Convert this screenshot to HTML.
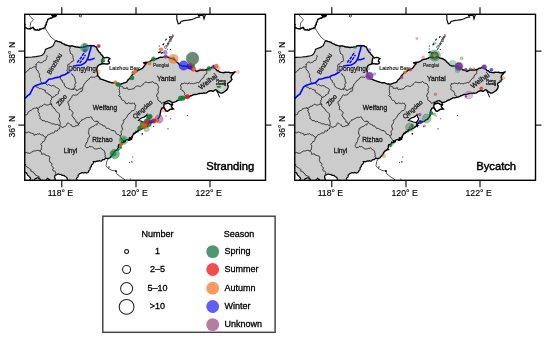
<!DOCTYPE html>
<html><head><meta charset="utf-8"><title>Stranding and bycatch map</title>
<style>
html,body{margin:0;padding:0;background:#fff;}
body{width:550px;height:337px;overflow:hidden;}
svg{display:block;font-family:"Liberation Sans",Arial,sans-serif;}
text{stroke:#000;stroke-width:0.3px;}
text.lb{stroke:#222;stroke-width:0.32px;}
text.sm{stroke:#333;stroke-width:0.2px;}
</style></head>
<body>
<svg width="550" height="337" viewBox="0 0 550 337">
<defs><clipPath id="clip"><rect x="24.75" y="14.3" width="240.75" height="166.0"/></clipPath></defs>
<rect x="0" y="0" width="550" height="337" fill="#fff"/>
<g transform="translate(0,0)">
<g clip-path="url(#clip)">
<polygon points="23.0,57.6 25.8,57.4 32.0,57.0 36.0,56.6 40.6,55.8 42.5,55.0 44.0,53.4 45.0,51.0 45.4,49.4 48.0,48.2 50.7,47.4 53.4,45.4 54.7,42.0 56.0,40.7 57.0,41.1 57.9,41.5 59.0,41.6 60.0,42.0 61.1,42.4 61.9,43.1 62.9,43.7 64.0,44.0 64.6,44.4 65.2,44.8 65.9,45.0 66.6,45.3 67.3,45.4 68.0,45.6 68.7,45.9 69.4,46.0 70.1,45.9 70.8,46.2 71.5,45.9 72.2,45.8 72.8,46.1 73.5,46.1 74.2,46.4 74.8,46.7 75.5,46.8 76.2,47.1 76.9,47.0 77.6,46.9 78.2,47.2 78.9,47.2 79.6,47.5 80.3,47.5 81.4,47.3 82.5,47.4 83.6,47.0 84.7,46.9 85.3,46.8 85.9,46.6 86.4,46.3 86.9,45.9 87.5,45.8 88.1,45.6 88.7,45.7 89.3,45.7 90.4,45.5 91.5,45.8 92.6,45.7 93.7,45.7 94.4,46.1 94.9,46.6 95.7,46.7 96.4,47.0 96.7,47.8 97.1,48.4 97.2,49.3 97.6,50.0 98.3,50.8 98.7,51.8 99.3,52.1 99.7,52.6 100.2,53.0 100.5,53.6 101.2,54.5 102.0,55.3 102.7,56.1 103.2,57.1 103.1,57.7 102.9,58.3 102.5,58.9 102.4,59.5 102.4,60.1 102.2,60.7 102.1,61.4 102.3,62.0 101.9,63.1 101.1,64.0 100.2,64.5 99.3,64.8 98.5,65.2 97.9,66.0 97.3,66.8 97.0,67.8 96.8,68.9 96.8,70.0 97.0,70.7 97.2,71.4 97.3,72.4 97.6,73.4 97.7,74.4 97.4,75.4 98.2,76.1 98.9,76.9 99.7,77.7 100.0,78.7 100.6,79.1 101.3,79.3 102.0,79.4 102.7,79.6 103.4,79.9 104.0,80.2 104.8,80.3 105.4,80.7 106.4,81.0 107.4,81.4 108.4,81.8 109.4,82.0 110.0,82.2 110.7,82.4 111.3,82.7 112.0,82.9 112.7,82.7 113.3,82.7 114.0,82.8 114.7,82.7 115.6,83.3 116.6,83.7 117.6,84.0 118.7,84.0 119.7,84.1 120.8,84.0 121.8,83.8 122.8,83.4 123.8,82.9 124.8,82.7 125.8,82.4 126.8,82.0 127.3,81.0 127.8,80.1 128.7,79.5 129.4,78.7 130.0,78.1 130.5,77.5 130.9,76.7 131.4,76.0 131.9,75.3 132.4,74.7 132.9,74.1 133.4,73.4 134.2,72.9 134.9,72.3 135.8,72.0 136.5,71.4 137.1,71.1 137.5,70.8 138.0,70.3 138.4,70.0 139.6,69.6 140.7,69.2 141.4,68.6 142.4,68.4 142.9,67.7 143.5,67.0 144.1,66.2 144.5,65.2 145.4,64.7 146.0,63.8 145.1,63.3 144.2,62.9 145.1,62.5 146.0,62.5 146.7,62.4 147.4,62.3 148.0,62.2 148.7,62.0 149.6,61.6 150.4,61.0 151.3,60.6 152.0,60.0 152.6,59.9 153.2,59.6 153.7,59.4 154.4,59.4 155.0,59.2 155.6,59.1 156.2,59.0 156.7,58.7 157.4,58.5 158.1,58.4 158.6,57.9 159.2,57.6 159.9,57.4 160.6,57.3 161.3,57.2 162.0,57.4 163.0,57.1 164.0,57.0 165.0,56.9 166.0,56.7 166.7,56.7 167.4,57.0 168.1,57.1 168.8,57.4 169.7,58.0 170.7,58.3 171.8,58.5 172.8,58.7 173.3,59.1 173.8,59.6 174.5,59.7 175.0,60.1 175.5,60.6 176.1,60.9 176.4,61.5 176.8,62.0 177.3,62.5 177.8,62.9 178.3,63.3 178.7,63.8 179.2,64.3 179.6,64.8 180.2,65.2 180.8,65.4 181.8,65.9 182.9,66.0 183.9,66.0 185.0,66.0 186.0,66.3 187.1,66.5 188.1,66.8 189.0,67.4 189.4,67.9 190.0,68.1 190.4,68.5 190.8,69.0 191.4,69.2 191.9,69.4 192.5,69.7 193.0,70.0 194.1,69.9 195.1,70.4 196.0,71.0 197.0,71.4 197.9,70.8 198.9,70.5 199.9,70.1 201.0,70.0 202.0,70.0 203.0,70.0 204.0,70.1 205.0,70.0 205.9,69.7 206.7,69.5 207.7,69.3 208.4,68.7 209.2,68.3 210.2,68.3 211.0,68.0 211.7,67.4 212.8,67.2 213.7,66.7 214.3,67.3 214.7,68.1 215.3,68.8 216.0,69.2 216.6,70.0 217.3,70.8 218.2,70.8 218.9,71.2 219.4,71.9 220.2,72.3 221.2,72.4 222.1,72.6 223.0,72.5 224.0,72.7 224.9,72.3 225.9,72.2 226.8,72.4 227.8,72.3 228.5,72.2 229.2,72.4 229.9,72.7 230.6,72.7 231.3,72.6 232.1,72.7 232.8,72.6 233.5,72.3 234.6,72.0 235.6,71.6 235.0,72.0 234.4,72.5 233.8,73.0 233.5,73.7 232.9,74.0 232.4,74.5 232.1,75.1 231.6,75.6 231.3,76.5 231.1,77.5 231.5,78.5 232.0,79.4 231.2,80.3 230.6,81.3 229.7,82.0 228.7,82.7 227.9,83.3 227.3,84.1 227.7,85.1 228.2,86.0 228.1,87.0 227.8,87.9 227.4,88.9 226.8,89.8 226.0,90.7 224.9,91.2 224.5,91.7 224.0,92.0 223.5,92.3 223.0,92.7 221.9,93.1 220.7,93.1 219.7,92.7 218.8,92.2 218.0,91.5 217.3,90.8 216.6,90.3 215.9,89.8 215.2,89.9 214.5,90.3 213.7,91.0 212.6,91.2 211.7,90.8 210.7,90.8 209.8,91.0 208.8,91.2 208.3,91.5 207.8,91.9 207.3,92.2 206.9,92.7 206.0,93.0 205.0,93.1 204.4,93.2 203.8,93.0 203.2,93.1 202.6,93.4 202.0,93.5 201.4,93.4 200.8,93.4 200.2,93.5 199.1,93.5 198.2,93.8 197.2,94.2 196.2,94.5 195.1,94.5 194.0,94.5 193.1,94.9 192.1,95.4 191.4,95.8 190.6,95.8 190.0,96.2 189.4,96.7 188.8,96.9 188.1,97.0 187.4,97.1 186.8,97.4 185.8,97.6 184.8,97.8 183.8,97.9 182.8,98.0 182.1,98.4 181.4,98.6 180.8,99.1 180.2,99.5 179.6,99.8 178.9,100.0 178.2,100.2 177.6,100.5 176.9,100.8 176.4,101.3 175.7,101.6 175.0,101.8 174.4,102.1 173.6,102.3 173.0,102.5 172.3,102.8 171.8,102.2 171.0,101.8 170.1,101.2 169.1,100.8 168.1,100.9 167.1,101.2 166.2,101.7 165.2,102.1 164.7,102.6 164.2,103.1 164.2,104.1 164.0,105.0 163.9,105.6 163.8,106.2 163.7,106.9 163.8,107.5 163.1,107.9 162.2,108.0 161.6,108.7 161.2,109.6 160.7,110.5 160.6,111.6 160.6,112.2 160.3,112.8 160.2,113.4 160.0,114.0 160.1,114.8 160.1,115.6 159.6,116.2 159.4,117.0 158.9,117.5 158.5,118.1 158.0,118.6 157.7,119.3 156.8,119.6 156.0,119.9 155.3,120.5 154.7,121.1 153.9,121.3 153.2,121.6 152.4,121.9 151.7,122.3 151.0,122.5 150.2,122.5 149.5,122.6 148.8,122.9 148.3,123.3 147.9,123.8 147.5,124.3 147.0,124.7 147.1,125.1 147.5,125.4 147.0,125.4 146.9,125.9 146.3,126.1 145.8,126.5 145.2,126.7 145.0,127.3 144.4,127.2 144.0,127.7 143.5,128.2 142.7,128.1 142.3,128.7 141.6,128.8 141.2,129.4 140.5,129.6 139.9,129.9 139.3,130.0 138.7,130.2 138.4,129.7 138.1,130.1 137.9,130.6 138.2,131.1 137.9,131.6 137.3,131.4 136.9,131.8 136.4,131.8 136.0,131.7 136.1,132.3 135.6,132.5 135.1,133.2 134.5,133.6 134.1,133.2 133.6,133.5 133.5,134.0 133.3,134.4 133.0,135.0 132.5,135.5 132.5,136.2 131.9,136.6 132.3,137.2 131.8,137.9 131.6,138.4 131.8,138.9 131.2,139.3 130.7,139.0 130.2,138.6 130.5,138.0 129.9,137.6 129.4,138.0 129.5,138.4 129.3,138.8 129.4,139.3 129.8,139.5 129.8,140.1 129.3,140.2 128.8,140.0 128.4,140.1 128.0,139.5 127.2,139.6 126.5,139.6 126.0,140.0 125.6,140.3 125.4,140.8 125.4,141.3 125.3,141.7 124.7,141.5 124.4,140.9 123.7,140.8 123.4,141.5 123.4,141.9 123.6,142.3 123.2,142.2 122.9,142.6 122.2,142.9 121.7,142.3 121.5,142.8 121.6,143.3 121.5,143.8 121.0,144.0 120.6,144.6 119.9,144.4 119.4,144.7 118.8,144.7 118.7,145.3 118.5,145.8 118.3,146.4 118.5,147.0 118.3,147.7 117.8,148.2 117.9,149.0 118.4,149.5 117.7,149.7 117.1,149.7 116.6,150.2 116.0,150.5 115.2,150.9 114.6,151.4 114.1,152.1 113.6,152.8 113.5,153.7 113.0,154.3 112.3,154.9 112.0,155.7 111.2,156.2 110.6,156.9 110.0,157.7 109.4,158.4 108.9,158.4 108.4,158.4 107.8,158.3 107.4,158.7 106.9,158.6 106.4,158.3 105.9,158.2 105.4,158.4 104.8,159.0 104.3,159.6 103.5,159.7 102.7,159.7 102.1,160.1 101.7,160.8 101.0,161.2 100.2,161.0 99.5,160.7 98.8,160.9 98.1,161.2 97.4,161.0 96.9,161.2 96.4,161.3 95.9,161.6 95.5,161.9 94.9,161.8 94.5,161.5 94.0,161.7 93.4,161.7 93.6,162.4 93.3,163.1 92.8,163.7 92.7,164.4 91.9,164.8 91.4,165.5 91.4,166.4 90.7,167.0 90.2,167.5 90.0,168.2 90.1,168.8 90.1,169.5 89.5,170.1 88.9,170.6 88.7,171.4 88.2,172.1 87.9,172.6 87.4,172.8 86.9,173.0 86.4,173.1 86.0,172.8 85.4,172.7 84.9,172.5 84.4,172.7 83.9,172.8 83.4,172.9 82.9,172.8 82.4,172.7 81.9,172.7 81.4,172.8 81.0,173.2 80.5,173.4 79.7,173.5 79.1,174.2 78.7,174.9 78.0,175.3 78.2,176.1 78.0,176.9 77.5,177.6 76.7,178.0 76.4,178.8 76.8,179.6 76.9,180.4 77.4,181.0 76.7,181.1 76.1,181.0 75.6,180.5 74.9,180.6 74.2,180.7 73.7,181.0 73.1,181.3 72.6,181.7 72.1,181.2 71.5,181.1 71.0,180.6 70.4,180.4 69.7,180.4 69.0,180.3 68.3,180.5 67.8,181.0 67.6,180.4 67.6,179.7 67.2,179.2 67.2,178.5 66.8,177.7 66.2,177.0 65.5,176.8 65.0,176.2 64.5,176.0 64.2,175.5 63.7,175.7 63.2,175.4 62.6,175.1 61.9,175.3 61.4,174.9 61.0,174.4 60.5,174.7 59.9,174.5 59.4,174.4 59.0,174.0 58.5,174.0 57.9,174.1 57.4,174.3 57.0,174.6 56.5,174.9 55.9,174.8 55.4,175.1 55.0,175.5 54.6,176.2 54.7,176.9 54.6,177.7 55.1,178.3 55.0,179.1 55.3,179.8 54.7,180.2 54.5,181.0 54.2,181.5 53.6,181.5 53.1,181.3 52.5,181.4 52.1,181.1 51.7,180.9 51.1,180.7 50.6,180.8 49.8,180.3 49.3,179.4 48.7,179.5 48.3,179.2 48.1,178.7 47.6,178.3 47.0,179.0 46.3,179.7 46.0,180.2 45.6,180.5 45.1,180.6 44.6,180.5 43.6,180.6 42.6,180.4 41.8,180.9 40.8,181.0 40.7,180.4 40.7,179.8 40.4,179.3 39.8,179.1 39.2,178.9 38.9,178.4 38.4,178.1 37.9,177.8 37.2,177.9 36.7,178.2 36.1,178.4 35.4,178.5 34.9,179.1 34.5,179.6 34.5,180.4 34.1,181.0 33.6,180.9 33.0,181.0 32.5,180.8 32.2,180.4 31.9,180.9 31.4,181.1 30.9,180.9 30.3,181.0 30.1,180.3 29.9,179.7 30.2,179.1 30.6,178.5 30.2,178.0 30.1,177.3 29.5,176.9 29.0,176.5 28.6,175.8 27.9,175.4 27.3,174.8 27.1,174.0 26.7,173.4 26.5,172.7 25.8,172.6 25.2,172.1 23.0,171.5" fill="#cccccc" stroke="none"/>
<polygon points="138.5,120.4 140.2,118.8 142.1,117.8 144.1,117.1 146.0,115.8 147.0,114.5 147.7,117.1 148.7,118.4 148.0,120.1 147.0,121.7 146.0,122.4 143.4,122.0 140.8,121.0" fill="#ffffff" stroke="#000" stroke-width="1.2"/>
<polyline points="46.6,55.0 46.8,55.6 47.2,56.2 47.3,56.9 46.8,57.4 46.6,58.0 46.3,58.5 46.5,59.2 46.0,59.7 45.5,60.5 44.5,60.6 43.8,61.1 43.0,61.5 42.8,62.0 42.4,62.5 41.9,62.4 41.3,62.7 40.8,62.9 40.3,62.8 39.9,62.4 39.4,62.1 38.7,62.0 37.9,62.1 37.6,62.8 37.1,63.3 36.7,63.7 36.7,64.2 36.2,64.5 35.7,64.5 36.2,65.4 35.9,66.3 35.5,66.8 34.8,67.1 34.2,66.8 33.5,66.9 33.0,67.1 32.7,67.4 32.3,67.8 31.9,68.1 31.4,68.4 30.9,68.1 30.4,68.3 29.9,68.1 29.4,68.8 29.1,69.6 28.4,70.1 27.6,70.4 27.2,70.9 26.9,71.5 26.4,71.9 25.8,72.2 25.0,72.4 24.5,73.0 23.7,72.9 23.0,73.2" fill="none" stroke="#1e1e1e" stroke-width="0.9"/>
<polyline points="35.9,66.3 36.2,67.2 35.9,68.1 35.9,68.7 36.4,69.0 36.5,69.6 36.9,69.9 37.1,70.5 37.7,70.6 38.2,71.0 38.2,71.6 38.3,72.6 39.0,73.3 39.3,73.8 39.5,74.2 39.7,74.7 39.4,75.2 39.3,76.2 39.7,77.1 40.1,77.9 40.6,78.7 40.5,79.3 40.7,79.9 40.4,80.5 40.3,81.1 40.7,81.5 41.0,82.0 41.2,82.6 41.8,82.9 41.8,83.6 42.4,84.1" fill="none" stroke="#1e1e1e" stroke-width="0.9"/>
<polyline points="70.0,46.5 70.2,47.2 69.8,47.7 69.8,48.4 70.1,49.0 69.6,49.5 69.8,50.2 69.7,50.8 70.0,51.4 70.3,51.9 70.5,52.4 70.3,52.9 70.4,53.5 71.0,53.6 71.4,54.1 72.1,54.2 72.4,54.7 72.6,55.4 73.0,55.9 73.0,56.6 72.5,57.1 73.0,57.6 73.4,58.3 73.1,59.0 73.5,59.7 73.6,60.2 73.7,60.7 73.3,61.1 73.0,61.5 72.4,61.3 71.7,61.5 71.1,61.9 70.9,62.5 70.5,63.1 70.0,63.7 69.3,64.1 68.6,64.3 67.9,64.5 67.6,65.2 67.8,65.8 67.5,66.5 67.9,67.4 67.8,68.3 67.6,69.2 66.9,69.9 67.1,70.6 67.5,71.2 67.9,71.8 68.0,72.5" fill="none" stroke="#1e1e1e" stroke-width="0.9"/>
<polyline points="70.9,73.9 71.5,73.9 72.1,74.0 72.4,74.4 72.6,75.0 72.8,75.7 73.4,75.9 73.8,76.4 74.3,76.7 74.4,77.6 74.8,78.4 74.9,79.3 75.4,80.1 75.1,80.8 75.3,81.5 75.5,82.2 76.2,82.5 75.7,83.0 75.2,83.3 75.1,84.0 74.8,84.6 74.9,85.4 75.2,86.1 75.1,87.0 74.3,87.4 74.3,88.1 73.9,88.7 73.3,89.1 72.6,89.1 71.7,89.5 70.8,89.1 70.4,89.4 69.9,89.3 69.4,89.0 69.2,88.5 68.6,88.4 68.1,88.7 67.8,88.3 67.4,87.9 66.8,87.9 66.4,87.7 66.0,87.3 65.8,86.8 65.2,86.6 64.8,86.1 64.7,85.4 64.1,85.1 64.2,84.5 64.4,83.8 63.9,83.4 63.5,82.9 62.8,82.7 62.4,82.0 62.3,81.3 62.4,80.6 62.0,80.1 61.3,80.0 60.8,79.6 60.7,78.9 60.1,78.1 60.5,77.2" fill="none" stroke="#1e1e1e" stroke-width="0.9"/>
<polyline points="45.4,83.3 46.1,83.6 46.3,84.3 46.8,84.8 47.3,85.3 47.9,84.9 48.6,84.4 49.1,85.1 50.0,85.0 50.7,85.7 51.6,86.0 52.4,85.6 53.4,85.7 54.3,85.7 54.9,86.3 55.4,87.1 56.2,87.4 56.7,87.9 57.3,88.0 58.0,88.1 58.5,88.5 58.8,89.1 59.4,89.5 59.1,90.2 59.6,90.8 58.8,91.2 58.5,92.0 58.2,92.8 58.5,93.6 58.1,93.9 57.5,93.9 57.1,94.3 56.8,94.7 56.1,95.0 55.4,95.0 55.5,95.6 55.0,96.0 54.6,96.3 54.0,96.3 53.5,96.7 53.2,97.3 52.5,97.2 52.0,97.7" fill="none" stroke="#1e1e1e" stroke-width="0.9"/>
<polyline points="35.9,85.9 35.9,86.6 36.5,87.0 37.1,87.5 37.7,87.2 38.3,87.4 38.7,87.9 39.2,88.2 39.4,88.8 39.9,88.6 40.3,88.3 40.8,88.6 41.3,88.5 41.6,88.9 42.0,89.3 42.5,89.4 43.0,89.4 43.7,89.5 44.1,90.1 44.8,90.2 45.4,90.0 45.1,90.9 45.3,91.8 45.8,92.6 46.6,93.0 47.1,93.2 47.6,93.1 48.0,93.4 48.3,93.8 48.5,94.4 49.0,94.5 49.5,94.6 50.0,94.7 50.0,95.2 50.2,95.7 50.8,95.7 51.2,96.1 51.9,96.7 52.0,97.7" fill="none" stroke="#1e1e1e" stroke-width="0.9"/>
<polyline points="37.4,107.7 37.3,108.3 37.5,108.9 38.1,109.0 38.5,109.6 37.9,109.9 37.9,110.6 37.8,111.1 38.0,111.7 38.6,112.1 38.6,112.8 39.3,113.2 39.4,113.9 39.1,114.6 39.0,115.3 39.5,115.9 40.0,116.4 39.8,117.0 40.1,117.6 39.8,118.2 40.0,118.9 40.7,118.9 41.3,119.3 41.8,119.8 42.0,120.4 42.9,120.6 43.9,120.6 44.8,120.9 45.4,121.7 46.2,121.9 46.8,121.3 47.5,121.6 48.1,122.1 48.7,122.4 49.4,122.5 49.9,123.0 50.7,123.0 51.3,123.5 51.9,124.0 52.7,123.9 53.4,123.8 54.2,123.7 54.7,124.4 55.4,124.7 56.0,125.0 56.5,124.8 56.8,124.4 57.4,124.4 57.8,124.7 58.6,125.2 59.4,125.7 59.5,125.2 59.9,124.8 60.0,124.3 60.2,123.8 60.4,123.2 60.2,122.7 59.9,122.3 60.0,121.7 59.5,120.9 59.5,120.0 58.9,119.3 58.7,118.4 59.1,117.6 59.6,116.8 59.5,115.9 59.4,115.0 59.4,114.4 59.4,113.8 59.0,113.3 58.5,113.0 58.1,112.6 57.6,112.3 57.2,111.9 56.7,111.7 56.3,111.3 56.0,110.9 55.8,110.3 55.3,110.1 55.3,109.5 54.8,109.1 54.6,108.6 54.0,108.4 53.9,107.8 53.3,107.5 53.0,106.9 52.5,106.7 51.9,106.3 51.8,105.6 51.8,105.0 52.0,104.4 51.3,104.3 50.9,103.8 50.8,103.2 50.4,102.7 50.9,102.2 50.9,101.5 50.6,101.0 50.7,100.3 51.3,99.8 51.7,99.2 51.5,98.4 52.0,97.7" fill="none" stroke="#1e1e1e" stroke-width="0.9"/>
<polyline points="23.0,115.8 23.6,116.2 24.3,115.9 24.7,115.3 25.3,115.0 25.8,114.8 26.3,114.6 26.8,114.8 27.3,114.4 27.5,113.8 28.0,113.5 28.0,113.0 28.0,112.4 28.3,111.8 28.9,111.6 29.4,111.2 30.0,111.1 30.5,110.5 31.2,110.6 31.6,110.2 32.0,109.7 32.2,109.1 32.7,108.6 33.3,108.7 33.9,108.6 34.4,108.1 35.0,108.1 35.6,108.2 36.0,107.7 36.9,107.8 37.4,108.6 38.1,108.1 38.9,107.9 39.6,107.4 39.8,106.5 40.6,106.2 41.4,106.4 42.2,106.2 42.5,105.4 43.3,105.2 43.8,104.6 44.5,104.2 45.3,104.4 45.9,105.0 46.7,105.0 47.6,105.1 48.4,104.8 49.1,104.2 50.0,104.4 50.6,104.3 51.0,103.9 51.5,104.1 52.0,104.4" fill="none" stroke="#1e1e1e" stroke-width="0.9"/>
<polyline points="72.6,89.1 73.1,89.4 73.6,89.4 74.2,89.3 74.6,88.8 75.0,89.2 75.6,89.2 76.0,89.6 76.0,90.2 76.9,90.2 77.9,90.3 78.5,89.6 79.3,89.1 79.8,89.0 80.4,89.1 80.5,88.6 81.1,88.4 81.9,87.9 82.7,87.4 82.7,86.8 83.1,86.4 83.3,85.9 83.9,85.7 83.6,85.0 83.9,84.3 84.3,83.7 85.0,83.4 85.5,82.8 85.6,82.1 86.0,81.5 86.7,81.2 87.2,80.4 88.1,80.1 88.7,79.4 89.5,78.9 89.4,78.3 89.9,77.8 90.4,77.6 90.7,77.1 91.3,77.0 91.8,77.2 92.4,77.2 92.9,77.2 93.5,77.2 93.9,76.9 94.4,77.2 94.9,77.5 95.6,76.8 96.3,76.1 97.0,76.3 97.6,76.0" fill="none" stroke="#1e1e1e" stroke-width="0.9"/>
<polyline points="82.7,87.4 82.7,88.4 82.7,89.4 82.2,89.7 82.2,90.3 82.3,90.8 82.2,91.3 81.3,91.3 80.4,91.6 79.8,92.2 79.3,93.0 78.6,93.6 77.7,94.0 77.5,94.6 77.0,94.8 76.5,95.0 76.0,94.7 75.5,95.1 74.9,95.1 74.3,95.3 73.8,95.0 73.1,94.9 72.6,95.3 72.2,95.7 72.0,96.3 71.9,97.2 71.3,97.9 70.8,98.6 70.0,99.0 70.0,99.6 69.9,100.2 69.6,100.7 69.1,101.0 68.4,101.1 68.0,101.7 68.0,102.4 68.0,103.0 68.1,103.8 68.8,104.2 68.9,105.0 68.8,105.7 69.3,106.0 69.7,106.5 69.6,107.1 69.4,107.7 69.6,108.2 69.4,108.7 69.4,109.2 69.4,109.7 70.4,109.6 71.0,110.3 71.7,110.9 72.2,111.6 72.7,111.9 73.0,112.3 73.1,112.8 72.9,113.4 72.4,114.1 72.0,115.0 72.1,115.8 72.5,116.4 72.9,117.1 73.6,117.4 73.9,118.1 74.0,118.9 74.8,119.2 75.4,119.7 75.6,120.3 76.1,120.8 75.9,121.4 75.9,122.1 76.6,122.3 77.2,122.0 77.4,122.7 78.1,123.0 78.1,123.7 78.4,124.3 78.5,125.0 79.0,125.5" fill="none" stroke="#1e1e1e" stroke-width="0.9"/>
<polyline points="59.4,125.7 60.0,125.8 60.7,125.9 61.0,126.5 61.4,127.0 62.2,127.4 63.2,127.2 64.0,126.9 64.7,126.4 65.6,126.1 66.3,125.5 66.8,124.6 66.8,123.7 67.5,123.1 68.5,123.2 69.2,123.6 69.8,124.3 70.5,124.9 71.4,124.8 71.6,125.6 72.0,126.4 72.7,126.6 73.4,126.6 74.1,126.5 74.8,126.4 75.5,126.1 75.9,125.3 76.6,125.7 77.4,125.7 77.8,125.3 78.1,124.8 78.2,124.2 78.7,123.9 79.0,123.4 79.6,123.1 79.5,122.5 80.0,122.0 80.4,121.4 81.1,121.1 81.5,120.5 81.6,119.8 82.3,119.9 83.1,119.9 83.5,119.2 84.0,118.7 84.6,118.8 85.1,118.6 85.6,118.3 86.0,118.0 86.5,117.7 87.0,117.9 87.4,117.4 88.0,117.4 88.6,117.4 89.1,117.6 89.6,117.4 90.1,117.1 90.7,116.8 91.3,117.1 91.8,117.4 92.0,118.0 92.0,118.6 92.3,119.1 92.8,119.4 93.0,120.0 93.4,120.3 93.8,120.7 94.3,121.0 94.7,121.4 95.3,121.3 95.9,121.6 96.6,121.5 96.8,120.8 97.4,121.2 97.5,121.9 98.1,121.9 98.7,122.0 98.7,122.6 98.7,123.1 99.2,123.4 99.6,123.8 100.1,124.2 100.6,124.0 101.1,124.2 101.4,124.7 102.0,124.8 102.6,124.9 102.7,125.6 103.3,125.9 103.9,126.1 104.5,125.9 105.0,126.3 105.4,126.7 105.8,127.1 105.8,127.7 106.1,128.2 106.6,128.4 107.2,128.2 107.7,128.5 108.2,128.3 108.7,128.7 109.6,129.1 110.4,129.7 111.3,130.0 112.0,130.7 113.0,130.5 114.0,130.7 114.3,131.1 114.8,131.2 115.3,131.4 115.4,132.0 115.8,132.5 115.7,133.2 116.1,133.7 116.7,133.8 117.0,134.4 117.7,134.5 118.3,134.5 118.8,134.7 119.5,135.3 120.0,136.0 120.0,136.6 120.6,136.9 120.8,137.5 121.0,138.0 121.5,138.5 121.9,139.1 122.4,139.7 122.5,140.5" fill="none" stroke="#1e1e1e" stroke-width="0.9"/>
<polyline points="97.4,123.0 97.2,123.6 97.4,124.1 97.1,124.6 96.7,124.9 96.1,124.9 95.6,124.7 95.2,125.1 94.7,125.4 94.4,125.9 93.9,126.4 93.2,126.2 92.7,126.7 92.0,126.6 91.4,126.9 91.0,127.4 90.7,128.0 90.2,128.0 89.7,128.0 89.3,128.4 89.1,128.9 89.1,129.4 89.3,129.9 89.0,130.3 88.7,130.7 88.7,131.2 88.4,131.7 88.7,132.2 88.5,132.8 88.7,133.4 88.5,134.0 89.0,134.3 89.4,134.7 89.7,135.2 89.7,135.8 89.4,136.4 89.5,137.0 88.9,137.6 88.1,137.8 87.9,138.7 88.0,139.5 87.9,140.0 87.6,140.5 87.7,141.0 87.4,141.5 87.4,142.1 87.0,142.5 86.4,142.5 86.0,143.0 86.1,143.9 85.7,144.7 85.1,145.5 85.3,146.4 85.8,147.1 86.3,147.8 87.1,147.4 88.0,147.7 88.5,147.1 89.1,146.6 90.0,146.3 90.7,146.8 91.5,146.6 92.2,146.8 92.8,147.3 93.4,147.7 94.0,148.2 94.4,148.8 95.2,148.9 95.9,149.2 96.6,148.9 97.3,148.8 98.0,148.5 98.7,148.4 99.4,148.5 99.8,147.9 100.4,147.8 101.0,148.1 101.4,148.5 101.9,148.9 102.1,149.5 102.7,149.7 103.5,150.0 104.1,150.7 104.6,151.5 104.7,152.4 105.0,153.2 105.2,154.0 104.9,154.9 105.4,155.7 105.0,156.4 105.2,157.2 105.9,157.6 106.0,158.4" fill="none" stroke="#1e1e1e" stroke-width="0.9"/>
<polyline points="60.0,127.0 59.6,127.9 59.7,128.9 59.2,128.9 58.7,128.9 58.3,129.3 58.0,129.7 57.5,130.0 57.5,130.6 57.0,130.8 56.7,131.3 56.4,130.8 55.8,130.7 55.3,131.0 54.7,131.0 54.6,131.7 54.4,132.4 53.8,132.7 53.3,133.3 52.6,132.9 51.9,132.9 51.2,133.2 50.7,133.8 50.2,133.9 49.7,134.1 49.3,134.5 48.8,134.3 48.4,134.7 47.8,134.8 47.4,135.2 47.4,135.8 47.0,136.3 46.3,136.7 46.2,137.4 45.6,137.8 45.2,138.3 45.0,138.9 45.1,139.6 44.7,140.2 44.4,140.8 44.1,141.4 43.4,141.5 42.7,141.7 42.5,142.6 41.9,143.2 41.2,143.7 40.7,144.4 41.2,144.8 41.6,145.1 41.6,145.8 42.1,146.2 41.6,146.6 41.6,147.2 41.5,147.8 41.4,148.4 41.5,149.2 41.1,149.9 40.3,150.2 40.0,151.0 39.3,150.8 38.8,150.4 38.1,150.8 37.4,150.4 36.7,150.5 36.0,150.5 35.4,150.9 34.7,151.1 34.0,150.8 33.3,151.1 32.7,151.6 32.0,151.7 31.5,152.3 30.9,152.8 30.2,153.0 29.5,153.4 28.7,153.1 27.9,153.4 27.5,152.7 26.7,152.4 25.8,152.9 24.8,152.7 24.3,152.6 23.8,152.4 23.3,152.5 23.0,153.0" fill="none" stroke="#1e1e1e" stroke-width="0.9"/>
<polyline points="23.0,132.3 23.5,132.0 24.2,132.0 24.7,132.4 25.3,132.4 26.0,132.7 26.8,132.9 27.3,132.3 28.1,132.1 28.8,132.0 29.5,132.1 30.0,132.7 30.7,133.0 31.2,132.9 31.7,133.1 32.1,133.5 32.7,133.4 33.3,133.5 33.6,134.0 34.0,134.5 33.8,135.1 34.4,135.3 34.9,135.0 35.3,134.7 35.5,134.2 36.0,134.6 36.6,134.5 36.9,134.1 37.4,133.8 37.9,134.2 38.5,134.3 38.9,133.7 39.6,133.7 40.1,134.1 40.4,134.5 40.9,134.7 41.4,135.0 42.1,134.7 42.8,135.1 43.4,135.4 43.8,136.0 44.1,136.6 44.8,136.7 45.4,137.1 45.6,137.8" fill="none" stroke="#1e1e1e" stroke-width="0.9"/>
<polyline points="40.0,151.0 40.3,151.4 40.8,151.6 40.9,152.1 41.4,152.4 41.6,153.4 41.7,154.4 42.1,154.2 42.7,154.1 43.2,154.1 43.7,153.8 44.2,153.8 44.8,154.1 44.9,154.7 45.4,155.0 46.1,155.4 47.0,155.3 47.6,155.9 48.5,155.9 49.0,155.9 49.4,156.3 49.3,156.8 49.7,157.2 49.8,158.2 49.4,159.0 49.4,159.6 49.1,160.2 49.6,160.7 49.8,161.3 49.9,161.9 50.2,162.5 50.9,162.6 51.4,163.0 51.7,163.5 51.7,164.1 51.9,164.6 51.6,165.2 51.5,165.8 51.9,166.2 52.2,166.7 52.7,167.0 53.2,167.5 53.4,168.2 53.1,168.9 52.7,169.5 52.7,170.3 53.3,170.8 54.0,170.8 54.7,171.0 55.2,171.6 55.6,172.4 55.7,173.2 55.7,174.0" fill="none" stroke="#1e1e1e" stroke-width="0.9"/>
<polyline points="23.0,163.3 23.8,163.7 24.1,164.6 25.0,164.8 25.8,164.5 25.6,165.3 26.0,166.1 26.5,166.7 27.1,167.2 27.9,167.4 28.5,167.8 29.1,168.3 29.6,168.9 30.4,169.2 30.9,169.8 30.7,170.6 30.9,171.4 31.7,171.2 32.4,171.7 33.2,171.9 33.5,172.7 33.9,173.3 34.6,173.4 34.7,174.1 35.3,174.4 35.8,175.0 35.9,175.7 36.6,175.5 37.3,175.9 38.2,176.3 39.1,176.6 39.2,177.1 39.2,177.6 39.7,178.0 39.8,178.5" fill="none" stroke="#1e1e1e" stroke-width="0.9"/>
<polyline points="118.7,84.0 119.4,84.6 120.0,85.4 119.6,85.9 119.5,86.5 119.2,87.0 119.4,87.7 119.5,88.3 119.2,88.8 119.1,89.5 119.4,90.0 119.5,90.7 119.4,91.4 119.4,92.1 119.7,92.8 119.9,93.5 119.6,94.3 119.3,95.0 118.7,95.4 119.0,96.0 119.4,96.6 120.2,96.6 120.8,96.9 120.7,97.6 121.3,98.1 121.3,98.8 121.4,99.4 121.8,99.9 122.4,100.3 123.0,100.7 123.7,100.4 124.2,100.8 124.8,101.2 124.7,101.9 125.0,102.5 125.8,102.8 125.9,103.7 126.7,103.5 127.4,103.7 127.8,103.1 128.6,102.8 129.2,103.3 130.0,103.0 130.5,103.3 131.0,103.7 131.6,103.7 132.1,103.3 132.7,103.1 133.2,103.2 133.8,103.4 134.3,103.2 134.7,103.8 134.6,104.4 135.1,104.8 135.7,105.0 135.7,105.9 135.1,106.7 135.2,107.5 135.0,108.4 135.0,109.0 134.8,109.6 134.3,109.9 133.9,110.4 133.3,110.6 132.7,110.5 132.4,111.0 131.7,111.0 131.0,111.6 130.6,112.5 130.0,113.3 129.0,113.5 128.9,114.0 128.5,114.4 128.0,114.6 127.7,115.0 127.7,115.7 127.0,116.2 127.0,116.9 126.5,117.4 126.1,117.7 125.8,118.1 125.6,118.6 125.1,118.9 124.7,119.3 124.5,119.8 123.9,119.9 123.4,120.0 123.3,120.6 123.7,121.0 123.8,121.6 123.6,122.1 123.4,122.6 123.1,123.0 123.0,123.5 122.8,124.0 122.2,124.6 121.5,125.0 121.9,125.8 121.7,126.7 122.0,127.4 121.9,128.2 122.7,128.5 122.8,129.4 122.3,129.7 122.1,130.3 121.7,130.7 121.2,131.1 121.0,131.7 120.8,132.3 121.3,132.7 121.4,133.4 121.4,134.2 121.4,135.1 120.6,135.4 120.0,136.0" fill="none" stroke="#1e1e1e" stroke-width="0.9"/>
<polyline points="120.0,86.0 120.5,86.1 121.0,86.4 121.5,86.4 122.1,86.4 122.6,86.7 122.9,87.1 123.0,87.7 123.1,88.3 123.6,88.1 124.2,88.0 124.6,88.5 125.1,88.7 125.7,88.4 126.3,88.5 126.3,87.8 126.8,87.4 127.4,87.7 127.6,88.4 127.7,89.1 128.3,89.5 128.9,89.6 129.5,89.3 130.2,89.4 130.8,89.4 131.5,89.3 131.9,88.8 132.6,88.8 133.2,89.1 133.7,88.8 133.9,88.2 134.5,88.0 134.8,87.4 135.2,86.9 135.6,86.4 136.3,86.3 136.9,86.1 137.5,85.8 138.1,86.1 138.7,86.1 139.3,86.4 140.0,86.1 140.7,86.5 141.2,86.1 141.7,85.6 142.1,84.9 142.8,84.9 143.3,84.4 143.4,83.7 143.9,83.4 144.4,83.1 144.8,82.7 145.1,82.2 145.7,82.1 146.3,82.1 146.8,82.4 147.4,82.5 148.2,82.6 149.1,82.7 149.9,82.5 150.7,82.3 151.6,82.1 152.5,81.6 153.2,82.2 154.0,82.7 154.4,83.2 154.9,83.3 155.5,83.3 156.0,83.3 156.5,83.6 157.0,83.9 157.4,84.4 157.4,85.0 158.0,85.4 158.1,86.1 158.4,86.6 158.7,87.2 158.8,87.9 158.3,88.5 158.1,89.1 158.0,89.7 157.8,90.3 158.0,90.8 158.2,91.3 158.5,91.8 158.4,92.4 158.3,93.0 157.8,93.4 157.2,93.6 157.0,94.2 157.3,94.8 156.7,95.1 156.6,95.8 156.6,96.4 157.1,96.9 157.7,97.1 158.0,97.6 157.6,98.1 157.8,98.7 157.5,99.3 157.7,99.9 158.2,100.3 158.8,100.3 158.8,101.0 159.4,101.4 160.2,101.5 160.9,101.9 160.9,102.7 161.4,103.4 162.4,103.2 162.9,102.4 163.8,102.3 164.7,102.7" fill="none" stroke="#1e1e1e" stroke-width="0.9"/>
<polyline points="207.8,69.0 207.6,69.5 207.5,70.0 206.9,70.1 206.6,70.5 206.9,71.0 206.9,71.5 206.8,72.0 206.6,72.5 206.8,73.0 206.7,73.6 206.4,74.1 205.8,74.3 205.3,74.4 204.8,74.7 204.4,75.1 204.4,75.7 204.3,76.3 203.8,76.6 203.8,77.1 203.8,77.6 203.4,77.9 202.9,78.0 202.3,78.2 202.1,78.7 201.6,79.3 201.1,80.0 200.4,80.5 200.3,81.4 199.7,81.5 199.2,81.8 199.2,82.4 199.0,82.9 198.5,82.9 198.0,82.6 197.4,82.5 197.0,83.0 196.5,82.9 196.0,83.2 195.5,83.2 195.0,83.1 194.4,83.2 194.1,83.6 193.5,83.8 193.0,83.5 192.4,83.6 191.8,83.4 191.3,83.6 190.8,84.0 190.4,83.5 189.9,83.2 189.4,83.0 189.0,82.6 188.8,83.3 188.1,83.6 187.4,83.8 186.8,83.4 186.1,83.4 185.4,83.3 184.8,82.9 184.1,83.0 183.6,83.6 182.8,83.8 182.1,83.5 181.4,83.4 181.7,84.1 181.2,84.8 180.7,85.2 180.0,85.4 180.5,85.7 180.8,86.2 181.0,86.7 181.3,87.2 181.3,87.8 180.9,88.3 180.8,88.8 180.8,89.4 181.4,90.0 182.2,90.0 182.7,90.6 182.9,91.3 183.7,91.4 184.2,92.0 184.4,92.7 184.8,93.4 184.8,94.0 184.6,94.5 185.0,95.0 185.1,95.6 185.7,95.8 186.3,95.8 186.5,96.4 186.8,97.0" fill="none" stroke="#1e1e1e" stroke-width="0.9"/>
<polyline points="23.0,57.6 25.8,57.4 32.0,57.0 36.0,56.6 40.6,55.8 42.5,55.0 44.0,53.4 45.0,51.0 45.4,49.4 48.0,48.2 50.7,47.4 53.4,45.4 54.7,42.0 56.0,40.7" fill="none" stroke="#000" stroke-width="1.1"/>
<polyline points="109.4,158.4 108.9,158.4 108.4,158.4 107.8,158.3 107.4,158.7 106.9,158.6 106.4,158.3 105.9,158.2 105.4,158.4 104.8,159.0 104.3,159.6 103.5,159.7 102.7,159.7 102.1,160.1 101.7,160.8 101.0,161.2 100.2,161.0 99.5,160.7 98.8,160.9 98.1,161.2 97.4,161.0 96.9,161.2 96.4,161.3 95.9,161.6 95.5,161.9 94.9,161.8 94.5,161.5 94.0,161.7 93.4,161.7 93.6,162.4 93.3,163.1 92.8,163.7 92.7,164.4 91.9,164.8 91.4,165.5 91.4,166.4 90.7,167.0 90.2,167.5 90.0,168.2 90.1,168.8 90.1,169.5 89.5,170.1 88.9,170.6 88.7,171.4 88.2,172.1 87.9,172.6 87.4,172.8 86.9,173.0 86.4,173.1 86.0,172.8 85.4,172.7 84.9,172.5 84.4,172.7 83.9,172.8 83.4,172.9 82.9,172.8 82.4,172.7 81.9,172.7 81.4,172.8 81.0,173.2 80.5,173.4 79.7,173.5 79.1,174.2 78.7,174.9 78.0,175.3 78.2,176.1 78.0,176.9 77.5,177.6 76.7,178.0 76.4,178.8 76.8,179.6 76.9,180.4 77.4,181.0 76.7,181.1 76.1,181.0 75.6,180.5 74.9,180.6 74.2,180.7 73.7,181.0 73.1,181.3 72.6,181.7 72.1,181.2 71.5,181.1 71.0,180.6 70.4,180.4 69.7,180.4 69.0,180.3 68.3,180.5 67.8,181.0 67.6,180.4 67.6,179.7 67.2,179.2 67.2,178.5 66.8,177.7 66.2,177.0 65.5,176.8 65.0,176.2 64.5,176.0 64.2,175.5 63.7,175.7 63.2,175.4 62.6,175.1 61.9,175.3 61.4,174.9 61.0,174.4 60.5,174.7 59.9,174.5 59.4,174.4 59.0,174.0 58.5,174.0 57.9,174.1 57.4,174.3 57.0,174.6 56.5,174.9 55.9,174.8 55.4,175.1 55.0,175.5 54.6,176.2 54.7,176.9 54.6,177.7 55.1,178.3 55.0,179.1 55.3,179.8 54.7,180.2 54.5,181.0 54.2,181.5 53.6,181.5 53.1,181.3 52.5,181.4 52.1,181.1 51.7,180.9 51.1,180.7 50.6,180.8 49.8,180.3 49.3,179.4 48.7,179.5 48.3,179.2 48.1,178.7 47.6,178.3 47.0,179.0 46.3,179.7 46.0,180.2 45.6,180.5 45.1,180.6 44.6,180.5 43.6,180.6 42.6,180.4 41.8,180.9 40.8,181.0 40.7,180.4 40.7,179.8 40.4,179.3 39.8,179.1 39.2,178.9 38.9,178.4 38.4,178.1 37.9,177.8 37.2,177.9 36.7,178.2 36.1,178.4 35.4,178.5 34.9,179.1 34.5,179.6 34.5,180.4 34.1,181.0 33.6,180.9 33.0,181.0 32.5,180.8 32.2,180.4 31.9,180.9 31.4,181.1 30.9,180.9 30.3,181.0 30.1,180.3 29.9,179.7 30.2,179.1 30.6,178.5 30.2,178.0 30.1,177.3 29.5,176.9 29.0,176.5 28.6,175.8 27.9,175.4 27.3,174.8 27.1,174.0 26.7,173.4 26.5,172.7 25.8,172.6 25.2,172.1" fill="none" stroke="#000" stroke-width="1.2"/>
<polyline points="216.6,90.8 218,93.5 219.7,97.4" fill="none" stroke="#000" stroke-width="1"/>
<polyline points="27.5,13.0 28.0,14.0 33.4,19.8 30.7,22.9 30.2,26.5 31.0,28.2" fill="none" stroke="#111" stroke-width="0.7"/>
<polyline points="44.9,27.8 46.5,30.5 48.7,33.8 50.9,37.1 54.2,39.8 56.4,40.9" fill="none" stroke="#111" stroke-width="0.7"/>
<polyline points="176.6,13.0 176.8,16.0 176.8,19.3 178.2,23.8 180.0,23.4 181.0,21.5 184.0,20.6 187.7,20.2 191.4,19.7 194.0,18.8 196.8,17.5 199.5,17.0 198.6,15.6 203.0,15.2 204.0,18.8 205.0,15.6 206.8,13.0" fill="none" stroke="#111" stroke-width="1.2"/>
<polyline points="109.4,158.4 108.0,159.0 106.7,161.7 106.0,165.7 108.0,168.4 112.0,170.4 116.0,171.0 116.7,173.8 120.0,176.4 124.0,179.0 126.0,181.0" fill="none" stroke="#111" stroke-width="0.7"/>
<polyline points="23.0,24.5 23.9,24.7 24.9,24.7 24.6,25.4 24.5,26.1 24.9,26.7 25.1,27.5 25.6,28.0 26.4,28.0 27.1,28.3 27.6,28.7 28.5,28.9 29.3,28.7 30.2,28.9 31.0,28.2 31.9,28.1 32.5,27.4 33.3,27.5 33.6,28.3 34.1,28.9 34.2,29.6 34.8,29.7 35.4,29.7 35.9,30.1 36.5,30.0 37.1,30.0 37.6,29.6 37.9,30.1 38.5,30.3 39.0,30.1 39.6,29.9 39.6,29.3 40.0,28.9 40.6,29.2 41.2,29.1 41.8,28.9 42.2,28.4 43.0,28.4 43.8,28.6 44.1,27.8 44.9,27.5 45.3,27.0 45.3,26.3 45.2,25.7 45.5,25.1 46.3,24.7 46.4,23.9 46.2,23.1 46.5,22.4 47.0,22.0 47.2,21.4 47.4,20.8 47.6,20.2 47.8,19.5 48.4,19.0 49.2,18.9 49.8,18.5 50.2,18.1 50.8,18.2 51.3,18.3 51.8,18.0 52.1,17.6 52.6,17.4 52.9,16.9 53.0,16.4 53.5,16.7 53.9,17.0 54.4,16.8 55.0,16.7 55.8,16.1 56.4,15.3 56.2,14.6 56.5,13.9 56.8,13.3 57.5,13.0" fill="none" stroke="#000" stroke-width="1.4"/>
<circle cx="80.4" cy="15.9" r="1.1" fill="#fff" stroke="#000" stroke-width="0.7"/>
<polyline points="56.0,40.7 57.0,41.1 57.9,41.5 59.0,41.6 60.0,42.0 61.1,42.4 61.9,43.1 62.9,43.7 64.0,44.0 64.6,44.4 65.2,44.8 65.9,45.0 66.6,45.3 67.3,45.4 68.0,45.6 68.7,45.9 69.4,46.0 70.1,45.9 70.8,46.2 71.5,45.9 72.2,45.8 72.8,46.1 73.5,46.1 74.2,46.4 74.8,46.7 75.5,46.8 76.2,47.1 76.9,47.0 77.6,46.9 78.2,47.2 78.9,47.2 79.6,47.5 80.3,47.5 81.4,47.3 82.5,47.4 83.6,47.0 84.7,46.9 85.3,46.8 85.9,46.6 86.4,46.3 86.9,45.9 87.5,45.8 88.1,45.6 88.7,45.7 89.3,45.7 90.4,45.5 91.5,45.8 92.6,45.7 93.7,45.7 94.4,46.1 94.9,46.6 95.7,46.7 96.4,47.0 96.7,47.8 97.1,48.4 97.2,49.3 97.6,50.0 98.3,50.8 98.7,51.8 99.3,52.1 99.7,52.6 100.2,53.0 100.5,53.6 101.2,54.5 102.0,55.3 102.7,56.1 103.2,57.1 103.1,57.7 102.9,58.3 102.5,58.9 102.4,59.5 102.4,60.1 102.2,60.7 102.1,61.4 102.3,62.0 101.9,63.1 101.1,64.0 100.2,64.5 99.3,64.8 98.5,65.2 97.9,66.0 97.3,66.8 97.0,67.8 96.8,68.9 96.8,70.0 97.0,70.7 97.2,71.4 97.3,72.4 97.6,73.4 97.7,74.4 97.4,75.4 98.2,76.1 98.9,76.9 99.7,77.7 100.0,78.7 100.6,79.1 101.3,79.3 102.0,79.4 102.7,79.6 103.4,79.9 104.0,80.2 104.8,80.3 105.4,80.7 106.4,81.0 107.4,81.4 108.4,81.8 109.4,82.0 110.0,82.2 110.7,82.4 111.3,82.7 112.0,82.9 112.7,82.7 113.3,82.7 114.0,82.8 114.7,82.7 115.6,83.3 116.6,83.7 117.6,84.0 118.7,84.0 119.7,84.1 120.8,84.0 121.8,83.8 122.8,83.4 123.8,82.9 124.8,82.7 125.8,82.4 126.8,82.0 127.3,81.0 127.8,80.1 128.7,79.5 129.4,78.7 130.0,78.1 130.5,77.5 130.9,76.7 131.4,76.0 131.9,75.3 132.4,74.7 132.9,74.1 133.4,73.4 134.2,72.9 134.9,72.3 135.8,72.0 136.5,71.4 137.1,71.1 137.5,70.8 138.0,70.3 138.4,70.0 139.6,69.6 140.7,69.2 141.4,68.6 142.4,68.4 142.9,67.7 143.5,67.0 144.1,66.2 144.5,65.2 145.4,64.7 146.0,63.8 145.1,63.3 144.2,62.9 145.1,62.5 146.0,62.5 146.7,62.4 147.4,62.3 148.0,62.2 148.7,62.0 149.6,61.6 150.4,61.0 151.3,60.6 152.0,60.0 152.6,59.9 153.2,59.6 153.7,59.4 154.4,59.4 155.0,59.2 155.6,59.1 156.2,59.0 156.7,58.7 157.4,58.5 158.1,58.4 158.6,57.9 159.2,57.6 159.9,57.4 160.6,57.3 161.3,57.2 162.0,57.4 163.0,57.1 164.0,57.0 165.0,56.9 166.0,56.7 166.7,56.7 167.4,57.0 168.1,57.1 168.8,57.4 169.7,58.0 170.7,58.3 171.8,58.5 172.8,58.7 173.3,59.1 173.8,59.6 174.5,59.7 175.0,60.1 175.5,60.6 176.1,60.9 176.4,61.5 176.8,62.0 177.3,62.5 177.8,62.9 178.3,63.3 178.7,63.8 179.2,64.3 179.6,64.8 180.2,65.2 180.8,65.4 181.8,65.9 182.9,66.0 183.9,66.0 185.0,66.0 186.0,66.3 187.1,66.5 188.1,66.8 189.0,67.4 189.4,67.9 190.0,68.1 190.4,68.5 190.8,69.0 191.4,69.2 191.9,69.4 192.5,69.7 193.0,70.0 194.1,69.9 195.1,70.4 196.0,71.0 197.0,71.4 197.9,70.8 198.9,70.5 199.9,70.1 201.0,70.0 202.0,70.0 203.0,70.0 204.0,70.1 205.0,70.0 205.9,69.7 206.7,69.5 207.7,69.3 208.4,68.7 209.2,68.3 210.2,68.3 211.0,68.0 211.7,67.4 212.8,67.2 213.7,66.7 214.3,67.3 214.7,68.1 215.3,68.8 216.0,69.2 216.6,70.0 217.3,70.8 218.2,70.8 218.9,71.2 219.4,71.9 220.2,72.3 221.2,72.4 222.1,72.6 223.0,72.5 224.0,72.7 224.9,72.3 225.9,72.2 226.8,72.4 227.8,72.3 228.5,72.2 229.2,72.4 229.9,72.7 230.6,72.7 231.3,72.6 232.1,72.7 232.8,72.6 233.5,72.3 234.6,72.0 235.6,71.6 235.0,72.0 234.4,72.5 233.8,73.0 233.5,73.7 232.9,74.0 232.4,74.5 232.1,75.1 231.6,75.6 231.3,76.5 231.1,77.5 231.5,78.5 232.0,79.4 231.2,80.3 230.6,81.3 229.7,82.0 228.7,82.7 227.9,83.3 227.3,84.1 227.7,85.1 228.2,86.0 228.1,87.0 227.8,87.9 227.4,88.9 226.8,89.8 226.0,90.7 224.9,91.2 224.5,91.7 224.0,92.0 223.5,92.3 223.0,92.7 221.9,93.1 220.7,93.1 219.7,92.7 218.8,92.2 218.0,91.5 217.3,90.8 216.6,90.3 215.9,89.8 215.2,89.9 214.5,90.3 213.7,91.0 212.6,91.2 211.7,90.8 210.7,90.8 209.8,91.0 208.8,91.2 208.3,91.5 207.8,91.9 207.3,92.2 206.9,92.7 206.0,93.0 205.0,93.1 204.4,93.2 203.8,93.0 203.2,93.1 202.6,93.4 202.0,93.5 201.4,93.4 200.8,93.4 200.2,93.5 199.1,93.5 198.2,93.8 197.2,94.2 196.2,94.5 195.1,94.5 194.0,94.5 193.1,94.9 192.1,95.4 191.4,95.8 190.6,95.8 190.0,96.2 189.4,96.7 188.8,96.9 188.1,97.0 187.4,97.1 186.8,97.4 185.8,97.6 184.8,97.8 183.8,97.9 182.8,98.0 182.1,98.4 181.4,98.6 180.8,99.1 180.2,99.5 179.6,99.8 178.9,100.0 178.2,100.2 177.6,100.5 176.9,100.8 176.4,101.3 175.7,101.6 175.0,101.8 174.4,102.1 173.6,102.3 173.0,102.5 172.3,102.8 171.8,102.2 171.0,101.8 170.1,101.2 169.1,100.8 168.1,100.9 167.1,101.2 166.2,101.7 165.2,102.1 164.7,102.6 164.2,103.1 164.2,104.1 164.0,105.0 163.9,105.6 163.8,106.2 163.7,106.9 163.8,107.5 163.1,107.9 162.2,108.0 161.6,108.7 161.2,109.6 160.7,110.5 160.6,111.6 160.6,112.2 160.3,112.8 160.2,113.4 160.0,114.0 160.1,114.8 160.1,115.6 159.6,116.2 159.4,117.0 158.9,117.5 158.5,118.1 158.0,118.6 157.7,119.3 156.8,119.6 156.0,119.9 155.3,120.5 154.7,121.1 153.9,121.3 153.2,121.6 152.4,121.9 151.7,122.3 151.0,122.5 150.2,122.5 149.5,122.6 148.8,122.9 148.3,123.3 147.9,123.8 147.5,124.3 147.0,124.7 147.1,125.1 147.5,125.4 147.0,125.4 146.9,125.9 146.3,126.1 145.8,126.5 145.2,126.7 145.0,127.3 144.4,127.2 144.0,127.7 143.5,128.2 142.7,128.1 142.3,128.7 141.6,128.8 141.2,129.4 140.5,129.6 139.9,129.9 139.3,130.0 138.7,130.2 138.4,129.7 138.1,130.1 137.9,130.6 138.2,131.1 137.9,131.6 137.3,131.4 136.9,131.8 136.4,131.8 136.0,131.7 136.1,132.3 135.6,132.5 135.1,133.2 134.5,133.6 134.1,133.2 133.6,133.5 133.5,134.0 133.3,134.4 133.0,135.0 132.5,135.5 132.5,136.2 131.9,136.6 132.3,137.2 131.8,137.9 131.6,138.4 131.8,138.9 131.2,139.3 130.7,139.0 130.2,138.6 130.5,138.0 129.9,137.6 129.4,138.0 129.5,138.4 129.3,138.8 129.4,139.3 129.8,139.5 129.8,140.1 129.3,140.2 128.8,140.0 128.4,140.1 128.0,139.5 127.2,139.6 126.5,139.6 126.0,140.0 125.6,140.3 125.4,140.8 125.4,141.3 125.3,141.7 124.7,141.5 124.4,140.9 123.7,140.8 123.4,141.5 123.4,141.9 123.6,142.3 123.2,142.2 122.9,142.6 122.2,142.9 121.7,142.3 121.5,142.8 121.6,143.3 121.5,143.8 121.0,144.0 120.6,144.6 119.9,144.4 119.4,144.7 118.8,144.7 118.7,145.3 118.5,145.8 118.3,146.4 118.5,147.0 118.3,147.7 117.8,148.2 117.9,149.0 118.4,149.5 117.7,149.7 117.1,149.7 116.6,150.2 116.0,150.5 115.2,150.9 114.6,151.4 114.1,152.1 113.6,152.8 113.5,153.7 113.0,154.3 112.3,154.9 112.0,155.7 111.2,156.2 110.6,156.9 110.0,157.7 109.4,158.4" fill="none" stroke="#000" stroke-width="1.4"/>
<ellipse cx="169.8" cy="36.9" rx="1.2" ry="0.6" transform="rotate(-55 169.8 36.9)" fill="#000"/>
<ellipse cx="166" cy="39.6" rx="1.2" ry="0.6" transform="rotate(-55 166 39.6)" fill="#000"/>
<ellipse cx="163.4" cy="44.3" rx="1.3" ry="0.7" transform="rotate(-50 163.4 44.3)" fill="#000"/>
<ellipse cx="159.3" cy="46" rx="0.6" ry="0.5" transform="rotate(0 159.3 46)" fill="#000"/>
<ellipse cx="159.3" cy="49" rx="0.6" ry="0.5" transform="rotate(0 159.3 49)" fill="#000"/>
<ellipse cx="159.5" cy="52.3" rx="1.8" ry="0.8" transform="rotate(-15 159.5 52.3)" fill="#000"/>
<ellipse cx="162" cy="52.8" rx="1.5" ry="0.7" transform="rotate(-20 162 52.8)" fill="#000"/>
<ellipse cx="170.4" cy="49.6" rx="0.6" ry="0.5" transform="rotate(0 170.4 49.6)" fill="#000"/>
<ellipse cx="167.4" cy="49.3" rx="0.5" ry="0.5" transform="rotate(0 167.4 49.3)" fill="#000"/>
<polyline points="147,121.7 146.7,123.7 147,125.6 147.7,127.2" fill="none" stroke="#000" stroke-width="1.1"/>
<polyline points="103.2,57.1 104.4,58 106.2,57.4 108.2,57.7 110,58.9 108.8,59.8 108.2,61 109.4,62.2 109.1,63.4 107.6,64 105.9,64 103.5,63.6 101.1,64" fill="none" stroke="#000" stroke-width="1.3"/>
<ellipse cx="54" cy="15.4" rx="3" ry="1.3" fill="#000"/>
<line x1="143.3" y1="62.7" x2="147.2" y2="62.5" stroke="#000" stroke-width="1.4"/>
<polyline points="164.2,103.1 165.2,103.8 167.4,103.1 169.1,103.4 170.1,104.4 171.7,105.1 171.4,106.7 172.3,108 173.3,109 171.7,109.3 170.1,109.3 168.7,110.3 167.4,111.3 166.1,111 164.8,109 163.8,107.5" fill="none" stroke="#000" stroke-width="1.5"/>
<circle cx="116" cy="171" r="0.9" fill="#000"/>
<circle cx="108.7" cy="167" r="0.6" fill="#000"/>
<circle cx="131.5" cy="161.7" r="0.5" fill="#000"/>
<circle cx="132.8" cy="157" r="0.5" fill="#000"/>
<circle cx="130.7" cy="179" r="0.5" fill="#000"/>
<circle cx="153.7" cy="126.6" r="0.6" fill="#000"/>
<circle cx="187.4" cy="115.4" r="0.5" fill="#000"/>
<circle cx="170.7" cy="118.8" r="0.5" fill="#000"/>
<circle cx="166" cy="116" r="0.5" fill="#000"/>
<circle cx="172" cy="104.5" r="1.2" fill="#000"/>
<circle cx="168" cy="128.8" r="0.6" fill="#000"/>
<circle cx="142.3" cy="133.9" r="0.8" fill="#000"/>
<circle cx="129.5" cy="162.3" r="0.5" fill="#000"/>
<circle cx="132.2" cy="161.9" r="0.5" fill="#000"/>
<circle cx="109.2" cy="166.9" r="0.5" fill="#000"/>
<polyline points="23.0,99.0 25.3,98.0 28.0,95.4 29.9,94.2 33.5,87.0 35.9,85.6 41.8,83.5 45.4,82.9 48.9,79.3 52.5,78.7 56.0,77.6 59.6,77.0 61.3,75.8 65.2,74.5 68.0,72.8 70.4,71.2 72.0,68.6 73.5,66.3 77.6,65.4 81.1,65.0 83.3,63.9 85.4,62.5 86.8,60.4 87.9,58.2 88.6,56.1 89.3,53.3 90.4,49.7 91.1,46.8 91.5,45.6" fill="none" stroke="#0505ff" stroke-width="1.6"/>
<polyline points="87.5,59.7 90.4,59.7 92.5,59.0 94.7,58.2" fill="none" stroke="#0505ff" stroke-width="1.6"/>
<polyline points="77.2,62.5 79.3,60.0 81.1,57.5 82.9,54.7 84.7,51.8" fill="none" stroke="#0505ff" stroke-width="1.4" stroke-dasharray="3.2 1"/>
<polyline points="79.7,63.2 81.8,60.4 84.0,57.5 85.4,54.7" fill="none" stroke="#0505ff" stroke-width="1.4" stroke-dasharray="3.2 1"/>
<circle cx="84.7" cy="47.5" r="4.35" fill="rgba(15,130,55,0.42)" stroke="rgba(15,130,55,0.504)" stroke-width="0.5"/>
<circle cx="84.9" cy="48.8" r="2.75" fill="rgba(15,130,55,0.4)" stroke="rgba(15,130,55,0.48)" stroke-width="0.5"/>
<circle cx="84.7" cy="45.4" r="1.75" fill="rgba(30,30,235,0.45)" stroke="rgba(30,30,235,0.54)" stroke-width="0.5"/>
<circle cx="85" cy="50.8" r="1.55" fill="rgba(30,30,235,0.45)" stroke="rgba(30,30,235,0.54)" stroke-width="0.5"/>
<circle cx="98.6" cy="46.1" r="1.75" fill="rgba(225,25,30,0.65)" stroke="rgba(225,25,30,0.78)" stroke-width="0.5"/>
<circle cx="98.8" cy="46.1" r="0.95" fill="rgba(30,30,235,0.5)" stroke="rgba(30,30,235,0.6)" stroke-width="0.5"/>
<circle cx="102.9" cy="60.7" r="1.85" fill="rgba(15,130,55,0.95)" stroke="rgba(15,130,55,1)" stroke-width="0.5"/>
<circle cx="98.4" cy="72" r="1.95" fill="rgba(225,25,30,0.2)" stroke="rgba(225,25,30,0.24)" stroke-width="0.5"/>
<circle cx="115.3" cy="82.4" r="1.75" fill="rgba(240,115,40,0.9)" stroke="rgba(240,115,40,1)" stroke-width="0.5"/>
<circle cx="117.9" cy="84.4" r="2.05" fill="rgba(15,130,55,0.95)" stroke="rgba(15,130,55,1)" stroke-width="0.5"/>
<circle cx="131.9" cy="77.9" r="2.05" fill="rgba(15,130,55,0.95)" stroke="rgba(15,130,55,1)" stroke-width="0.5"/>
<circle cx="133.5" cy="72.7" r="1.75" fill="rgba(225,25,30,0.8)" stroke="rgba(225,25,30,0.96)" stroke-width="0.5"/>
<circle cx="135.3" cy="71.3" r="1.75" fill="rgba(240,115,40,0.9)" stroke="rgba(240,115,40,1)" stroke-width="0.5"/>
<circle cx="134" cy="72.8" r="1.35" fill="rgba(240,115,40,0.9)" stroke="rgba(240,115,40,1)" stroke-width="0.5"/>
<circle cx="149.4" cy="63.4" r="1.75" fill="rgba(240,115,40,0.9)" stroke="rgba(240,115,40,1)" stroke-width="0.5"/>
<circle cx="153.6" cy="58.6" r="2.15" fill="rgba(225,25,30,0.25)" stroke="rgba(225,25,30,0.3)" stroke-width="0.5"/>
<circle cx="153.4" cy="59.3" r="1.95" fill="rgba(15,130,55,0.95)" stroke="rgba(15,130,55,1)" stroke-width="0.5"/>
<circle cx="161.3" cy="49.4" r="1.75" fill="rgba(240,115,40,0.85)" stroke="rgba(240,115,40,1)" stroke-width="0.5"/>
<circle cx="165.2" cy="52.3" r="1.95" fill="rgba(30,30,235,0.45)" stroke="rgba(30,30,235,0.54)" stroke-width="0.5"/>
<circle cx="165.6" cy="56.4" r="1.75" fill="rgba(150,60,130,0.9)" stroke="rgba(150,60,130,1)" stroke-width="0.5"/>
<circle cx="173.4" cy="58.8" r="4.65" fill="rgba(240,115,40,0.6)" stroke="rgba(240,115,40,0.72)" stroke-width="0.5"/>
<circle cx="173.4" cy="58.4" r="1.25" fill="rgba(110,115,40,0.9)" stroke="rgba(110,115,40,1)" stroke-width="0.5"/>
<circle cx="183.6" cy="65.5" r="4.65" fill="rgba(30,30,235,0.72)" stroke="rgba(30,30,235,0.864)" stroke-width="0.5"/>
<circle cx="189.4" cy="66.4" r="2.75" fill="rgba(30,30,235,0.85)" stroke="rgba(30,30,235,1)" stroke-width="0.5"/>
<circle cx="191.2" cy="67.3" r="1.75" fill="rgba(30,30,235,0.9)" stroke="rgba(30,30,235,1)" stroke-width="0.5"/>
<circle cx="192.5" cy="58.4" r="6.35" fill="rgba(100,132,112,0.95)" stroke="rgba(100,132,112,1)" stroke-width="0.5"/>
<circle cx="193.4" cy="65.5" r="1.35" fill="rgba(15,130,55,0.95)" stroke="rgba(15,130,55,1)" stroke-width="0.5"/>
<circle cx="190.3" cy="64.2" r="1.25" fill="rgba(225,25,30,0.9)" stroke="rgba(225,25,30,1)" stroke-width="0.5"/>
<circle cx="193.4" cy="69" r="2.25" fill="rgba(225,25,30,0.8)" stroke="rgba(225,25,30,0.96)" stroke-width="0.5"/>
<circle cx="193.8" cy="69.4" r="1.35" fill="rgba(240,115,40,0.9)" stroke="rgba(240,115,40,1)" stroke-width="0.5"/>
<circle cx="199.7" cy="69.6" r="1.55" fill="rgba(225,25,30,0.22)" stroke="rgba(225,25,30,0.264)" stroke-width="0.5"/>
<circle cx="203.2" cy="69.6" r="1.55" fill="rgba(225,25,30,0.22)" stroke="rgba(225,25,30,0.264)" stroke-width="0.5"/>
<circle cx="209" cy="68.7" r="2.15" fill="rgba(15,130,55,0.95)" stroke="rgba(15,130,55,1)" stroke-width="0.5"/>
<circle cx="213.7" cy="66.9" r="1.95" fill="rgba(150,60,130,0.9)" stroke="rgba(150,60,130,1)" stroke-width="0.5"/>
<circle cx="214" cy="66.5" r="1.15" fill="rgba(30,30,235,0.6)" stroke="rgba(30,30,235,0.72)" stroke-width="0.5"/>
<circle cx="216.4" cy="66" r="1.95" fill="rgba(240,115,40,0.9)" stroke="rgba(240,115,40,1)" stroke-width="0.5"/>
<circle cx="218.4" cy="68" r="1.55" fill="rgba(225,25,30,0.3)" stroke="rgba(225,25,30,0.36)" stroke-width="0.5"/>
<circle cx="237.8" cy="72" r="1.75" fill="rgba(225,25,30,0.22)" stroke="rgba(225,25,30,0.264)" stroke-width="0.5"/>
<circle cx="218.8" cy="85.7" r="2.15" fill="rgba(15,130,55,0.95)" stroke="rgba(15,130,55,1)" stroke-width="0.5"/>
<circle cx="180.6" cy="98.3" r="2.35" fill="rgba(15,130,55,0.9)" stroke="rgba(15,130,55,1)" stroke-width="0.5"/>
<circle cx="182.8" cy="98.2" r="2.35" fill="rgba(15,130,55,0.9)" stroke="rgba(15,130,55,1)" stroke-width="0.5"/>
<circle cx="187.6" cy="96.7" r="2.15" fill="rgba(225,25,30,0.85)" stroke="rgba(225,25,30,1)" stroke-width="0.5"/>
<circle cx="186.3" cy="96.9" r="1.35" fill="rgba(225,25,30,0.3)" stroke="rgba(225,25,30,0.36)" stroke-width="0.5"/>
<circle cx="164.1" cy="110" r="2.35" fill="rgba(225,25,30,0.25)" stroke="rgba(225,25,30,0.3)" stroke-width="0.5"/>
<circle cx="159" cy="119" r="4.15" fill="rgba(150,60,130,0.5)" stroke="rgba(150,60,130,0.6)" stroke-width="0.5"/>
<circle cx="157.5" cy="120.3" r="1.35" fill="rgba(150,60,130,0.9)" stroke="rgba(150,60,130,1)" stroke-width="0.5"/>
<circle cx="156.9" cy="120.4" r="1.05" fill="rgba(240,115,40,0.8)" stroke="rgba(240,115,40,0.96)" stroke-width="0.5"/>
<circle cx="150" cy="116.5" r="2.25" fill="rgba(15,130,55,0.95)" stroke="rgba(15,130,55,1)" stroke-width="0.5"/>
<circle cx="148.6" cy="117.6" r="2.25" fill="rgba(15,130,55,0.9)" stroke="rgba(15,130,55,1)" stroke-width="0.5"/>
<circle cx="147" cy="121.8" r="2.95" fill="rgba(15,130,55,0.9)" stroke="rgba(15,130,55,1)" stroke-width="0.5"/>
<circle cx="143" cy="124.2" r="2.75" fill="rgba(15,130,55,0.8)" stroke="rgba(15,130,55,0.96)" stroke-width="0.5"/>
<circle cx="148.5" cy="124" r="2.75" fill="rgba(15,130,55,0.9)" stroke="rgba(15,130,55,1)" stroke-width="0.5"/>
<circle cx="146.5" cy="129.1" r="2.75" fill="rgba(15,130,55,0.35)" stroke="rgba(15,130,55,0.42)" stroke-width="0.5"/>
<circle cx="139.8" cy="128" r="2.15" fill="rgba(15,130,55,0.95)" stroke="rgba(15,130,55,1)" stroke-width="0.5"/>
<circle cx="147.8" cy="121.7" r="2.25" fill="rgba(225,25,30,0.95)" stroke="rgba(225,25,30,1)" stroke-width="0.5"/>
<circle cx="153.7" cy="121" r="2.25" fill="rgba(225,25,30,0.95)" stroke="rgba(225,25,30,1)" stroke-width="0.5"/>
<circle cx="151" cy="121.7" r="1.75" fill="rgba(30,30,235,0.8)" stroke="rgba(30,30,235,0.96)" stroke-width="0.5"/>
<circle cx="144.2" cy="126" r="2.75" fill="rgba(240,80,20,0.88)" stroke="rgba(240,80,20,1)" stroke-width="0.5"/>
<circle cx="123.5" cy="140.2" r="4.35" fill="rgba(15,130,55,0.38)" stroke="rgba(15,130,55,0.45599999999999996)" stroke-width="0.5"/>
<circle cx="121.3" cy="139.3" r="1.35" fill="rgba(15,130,55,0.6)" stroke="rgba(15,130,55,0.72)" stroke-width="0.5"/>
<circle cx="124" cy="138.6" r="1.25" fill="rgba(15,130,55,0.5)" stroke="rgba(15,130,55,0.6)" stroke-width="0.5"/>
<circle cx="120.5" cy="147.4" r="1.35" fill="rgba(15,130,55,0.9)" stroke="rgba(15,130,55,1)" stroke-width="0.5"/>
<circle cx="118.3" cy="149.8" r="0.95" fill="rgba(15,130,55,0.9)" stroke="rgba(15,130,55,1)" stroke-width="0.5"/>
<circle cx="121.2" cy="144.2" r="1.65" fill="rgba(220,90,30,0.9)" stroke="rgba(220,90,30,1)" stroke-width="0.5"/>
<circle cx="114.7" cy="154" r="4.75" fill="rgba(15,130,55,0.55)" stroke="rgba(15,130,55,0.66)" stroke-width="0.5"/>
<circle cx="113.6" cy="153.5" r="2.75" fill="rgba(15,130,55,0.6)" stroke="rgba(15,130,55,0.72)" stroke-width="0.5"/>
<text x="54.3" y="63.7" class="lb" font-size="6.5" fill="#222" text-anchor="middle" dominant-baseline="central" transform="rotate(-60 54.3 63.7)">Binzhou</text>
<text x="82.1" y="70.8" font-size="6.6" fill="#eeeeee" text-anchor="middle" style="stroke:#eeeeee;stroke-width:0.9px;opacity:0.85">Dongying</text>
<text x="82.1" y="70.8" class="lb" font-size="6.6" fill="#222" text-anchor="middle">Dongying</text>
<text x="61.3" y="100" class="lb" font-size="6.5" fill="#222" text-anchor="middle" dominant-baseline="central" transform="rotate(-50 61.3 100)">Zibo</text>
<text x="105" y="110.3" class="lb" font-size="6.7" fill="#222" text-anchor="middle">Weifang</text>
<text x="102.4" y="142" class="lb" font-size="6.6" fill="#222" text-anchor="middle">Rizhao</text>
<text x="70.5" y="152.6" class="lb" font-size="6.6" fill="#222" text-anchor="middle">Linyi</text>
<text x="166.3" y="80.7" class="lb" font-size="6.8" fill="#222" text-anchor="middle">Yantai</text>
<text x="142.4" y="109.1" class="lb" font-size="6.5" fill="#222" text-anchor="middle" dominant-baseline="central" transform="rotate(-42 142.4 109.1)">Qingdao</text>
<text x="124.4" y="69.9" class="sm" font-size="5.5" fill="#222" text-anchor="middle">Laizhou Bay</text>
<text x="161" y="66.6" class="sm" font-size="4.8" fill="#222" text-anchor="middle">Penglai</text>
<text x="221" y="81.5" font-size="3.9" fill="#e8e8e8" text-anchor="middle" style="stroke:#e8e8e8;stroke-width:1.4px">Rong</text>
<text x="221" y="85" font-size="3.9" fill="#e8e8e8" text-anchor="middle" style="stroke:#e8e8e8;stroke-width:1.4px">cheng</text>
<text x="221" y="81.5" font-size="3.9" fill="#222" text-anchor="middle" style="stroke:#222;stroke-width:0.35px">Rong</text>
<text x="221" y="85" font-size="3.9" fill="#222" text-anchor="middle" style="stroke:#222;stroke-width:0.35px">cheng</text>
<text x="169.3" y="41.6" class="sm" font-size="3.5" fill="#333" text-anchor="middle" dominant-baseline="central" transform="rotate(-60 169.3 41.6)">Changdao</text>
<text x="207.9" y="81.4" class="lb" font-size="7" fill="#222" text-anchor="middle" dominant-baseline="central" transform="rotate(-38 207.9 81.4)">Weihai</text>
</g>
<rect x="24.75" y="14.3" width="240.75" height="166.0" fill="none" stroke="#000" stroke-width="1.4"/>
<line x1="61.8" y1="14.3" x2="61.8" y2="7.300000000000001" stroke="#000" stroke-width="1.1"/>
<line x1="61.8" y1="180.3" x2="61.8" y2="187.3" stroke="#000" stroke-width="1.1"/>
<line x1="136" y1="14.3" x2="136" y2="7.300000000000001" stroke="#000" stroke-width="1.1"/>
<line x1="136" y1="180.3" x2="136" y2="187.3" stroke="#000" stroke-width="1.1"/>
<line x1="210" y1="14.3" x2="210" y2="7.300000000000001" stroke="#000" stroke-width="1.1"/>
<line x1="210" y1="180.3" x2="210" y2="187.3" stroke="#000" stroke-width="1.1"/>
<line x1="24.75" y1="51.1" x2="18.25" y2="51.1" stroke="#000" stroke-width="1.1"/>
<line x1="265.5" y1="51.1" x2="271.5" y2="51.1" stroke="#000" stroke-width="1.1"/>
<line x1="24.75" y1="125.1" x2="18.25" y2="125.1" stroke="#000" stroke-width="1.1"/>
<line x1="265.5" y1="125.1" x2="271.5" y2="125.1" stroke="#000" stroke-width="1.1"/>
<text x="60.4" y="196.4" font-size="8.7" text-anchor="middle" style="stroke-width:0.15px">118° E</text>
<text x="134.6" y="196.4" font-size="8.7" text-anchor="middle" style="stroke-width:0.15px">120° E</text>
<text x="208.6" y="196.4" font-size="8.7" text-anchor="middle" style="stroke-width:0.15px">122° E</text>
<text x="15" y="52.7" font-size="8.7" text-anchor="middle" style="stroke-width:0.15px" transform="rotate(-90 15 52.7)">38° N</text>
<text x="15" y="126.69999999999999" font-size="8.7" text-anchor="middle" style="stroke-width:0.15px" transform="rotate(-90 15 126.69999999999999)">36° N</text>
<text x="206.3" y="170.3" font-size="11.2" style="stroke-width:0.45px">Stranding</text>
</g>
<g transform="translate(270,0)">
<g clip-path="url(#clip)">
<polygon points="23.0,57.6 25.8,57.4 32.0,57.0 36.0,56.6 40.6,55.8 42.5,55.0 44.0,53.4 45.0,51.0 45.4,49.4 48.0,48.2 50.7,47.4 53.4,45.4 54.7,42.0 56.0,40.7 57.0,41.1 57.9,41.5 59.0,41.6 60.0,42.0 61.1,42.4 61.9,43.1 62.9,43.7 64.0,44.0 64.6,44.4 65.2,44.8 65.9,45.0 66.6,45.3 67.3,45.4 68.0,45.6 68.7,45.9 69.4,46.0 70.1,45.9 70.8,46.2 71.5,45.9 72.2,45.8 72.8,46.1 73.5,46.1 74.2,46.4 74.8,46.7 75.5,46.8 76.2,47.1 76.9,47.0 77.6,46.9 78.2,47.2 78.9,47.2 79.6,47.5 80.3,47.5 81.4,47.3 82.5,47.4 83.6,47.0 84.7,46.9 85.3,46.8 85.9,46.6 86.4,46.3 86.9,45.9 87.5,45.8 88.1,45.6 88.7,45.7 89.3,45.7 90.4,45.5 91.5,45.8 92.6,45.7 93.7,45.7 94.4,46.1 94.9,46.6 95.7,46.7 96.4,47.0 96.7,47.8 97.1,48.4 97.2,49.3 97.6,50.0 98.3,50.8 98.7,51.8 99.3,52.1 99.7,52.6 100.2,53.0 100.5,53.6 101.2,54.5 102.0,55.3 102.7,56.1 103.2,57.1 103.1,57.7 102.9,58.3 102.5,58.9 102.4,59.5 102.4,60.1 102.2,60.7 102.1,61.4 102.3,62.0 101.9,63.1 101.1,64.0 100.2,64.5 99.3,64.8 98.5,65.2 97.9,66.0 97.3,66.8 97.0,67.8 96.8,68.9 96.8,70.0 97.0,70.7 97.2,71.4 97.3,72.4 97.6,73.4 97.7,74.4 97.4,75.4 98.2,76.1 98.9,76.9 99.7,77.7 100.0,78.7 100.6,79.1 101.3,79.3 102.0,79.4 102.7,79.6 103.4,79.9 104.0,80.2 104.8,80.3 105.4,80.7 106.4,81.0 107.4,81.4 108.4,81.8 109.4,82.0 110.0,82.2 110.7,82.4 111.3,82.7 112.0,82.9 112.7,82.7 113.3,82.7 114.0,82.8 114.7,82.7 115.6,83.3 116.6,83.7 117.6,84.0 118.7,84.0 119.7,84.1 120.8,84.0 121.8,83.8 122.8,83.4 123.8,82.9 124.8,82.7 125.8,82.4 126.8,82.0 127.3,81.0 127.8,80.1 128.7,79.5 129.4,78.7 130.0,78.1 130.5,77.5 130.9,76.7 131.4,76.0 131.9,75.3 132.4,74.7 132.9,74.1 133.4,73.4 134.2,72.9 134.9,72.3 135.8,72.0 136.5,71.4 137.1,71.1 137.5,70.8 138.0,70.3 138.4,70.0 139.6,69.6 140.7,69.2 141.4,68.6 142.4,68.4 142.9,67.7 143.5,67.0 144.1,66.2 144.5,65.2 145.4,64.7 146.0,63.8 145.1,63.3 144.2,62.9 145.1,62.5 146.0,62.5 146.7,62.4 147.4,62.3 148.0,62.2 148.7,62.0 149.6,61.6 150.4,61.0 151.3,60.6 152.0,60.0 152.6,59.9 153.2,59.6 153.7,59.4 154.4,59.4 155.0,59.2 155.6,59.1 156.2,59.0 156.7,58.7 157.4,58.5 158.1,58.4 158.6,57.9 159.2,57.6 159.9,57.4 160.6,57.3 161.3,57.2 162.0,57.4 163.0,57.1 164.0,57.0 165.0,56.9 166.0,56.7 166.7,56.7 167.4,57.0 168.1,57.1 168.8,57.4 169.7,58.0 170.7,58.3 171.8,58.5 172.8,58.7 173.3,59.1 173.8,59.6 174.5,59.7 175.0,60.1 175.5,60.6 176.1,60.9 176.4,61.5 176.8,62.0 177.3,62.5 177.8,62.9 178.3,63.3 178.7,63.8 179.2,64.3 179.6,64.8 180.2,65.2 180.8,65.4 181.8,65.9 182.9,66.0 183.9,66.0 185.0,66.0 186.0,66.3 187.1,66.5 188.1,66.8 189.0,67.4 189.4,67.9 190.0,68.1 190.4,68.5 190.8,69.0 191.4,69.2 191.9,69.4 192.5,69.7 193.0,70.0 194.1,69.9 195.1,70.4 196.0,71.0 197.0,71.4 197.9,70.8 198.9,70.5 199.9,70.1 201.0,70.0 202.0,70.0 203.0,70.0 204.0,70.1 205.0,70.0 205.9,69.7 206.7,69.5 207.7,69.3 208.4,68.7 209.2,68.3 210.2,68.3 211.0,68.0 211.7,67.4 212.8,67.2 213.7,66.7 214.3,67.3 214.7,68.1 215.3,68.8 216.0,69.2 216.6,70.0 217.3,70.8 218.2,70.8 218.9,71.2 219.4,71.9 220.2,72.3 221.2,72.4 222.1,72.6 223.0,72.5 224.0,72.7 224.9,72.3 225.9,72.2 226.8,72.4 227.8,72.3 228.5,72.2 229.2,72.4 229.9,72.7 230.6,72.7 231.3,72.6 232.1,72.7 232.8,72.6 233.5,72.3 234.6,72.0 235.6,71.6 235.0,72.0 234.4,72.5 233.8,73.0 233.5,73.7 232.9,74.0 232.4,74.5 232.1,75.1 231.6,75.6 231.3,76.5 231.1,77.5 231.5,78.5 232.0,79.4 231.2,80.3 230.6,81.3 229.7,82.0 228.7,82.7 227.9,83.3 227.3,84.1 227.7,85.1 228.2,86.0 228.1,87.0 227.8,87.9 227.4,88.9 226.8,89.8 226.0,90.7 224.9,91.2 224.5,91.7 224.0,92.0 223.5,92.3 223.0,92.7 221.9,93.1 220.7,93.1 219.7,92.7 218.8,92.2 218.0,91.5 217.3,90.8 216.6,90.3 215.9,89.8 215.2,89.9 214.5,90.3 213.7,91.0 212.6,91.2 211.7,90.8 210.7,90.8 209.8,91.0 208.8,91.2 208.3,91.5 207.8,91.9 207.3,92.2 206.9,92.7 206.0,93.0 205.0,93.1 204.4,93.2 203.8,93.0 203.2,93.1 202.6,93.4 202.0,93.5 201.4,93.4 200.8,93.4 200.2,93.5 199.1,93.5 198.2,93.8 197.2,94.2 196.2,94.5 195.1,94.5 194.0,94.5 193.1,94.9 192.1,95.4 191.4,95.8 190.6,95.8 190.0,96.2 189.4,96.7 188.8,96.9 188.1,97.0 187.4,97.1 186.8,97.4 185.8,97.6 184.8,97.8 183.8,97.9 182.8,98.0 182.1,98.4 181.4,98.6 180.8,99.1 180.2,99.5 179.6,99.8 178.9,100.0 178.2,100.2 177.6,100.5 176.9,100.8 176.4,101.3 175.7,101.6 175.0,101.8 174.4,102.1 173.6,102.3 173.0,102.5 172.3,102.8 171.8,102.2 171.0,101.8 170.1,101.2 169.1,100.8 168.1,100.9 167.1,101.2 166.2,101.7 165.2,102.1 164.7,102.6 164.2,103.1 164.2,104.1 164.0,105.0 163.9,105.6 163.8,106.2 163.7,106.9 163.8,107.5 163.1,107.9 162.2,108.0 161.6,108.7 161.2,109.6 160.7,110.5 160.6,111.6 160.6,112.2 160.3,112.8 160.2,113.4 160.0,114.0 160.1,114.8 160.1,115.6 159.6,116.2 159.4,117.0 158.9,117.5 158.5,118.1 158.0,118.6 157.7,119.3 156.8,119.6 156.0,119.9 155.3,120.5 154.7,121.1 153.9,121.3 153.2,121.6 152.4,121.9 151.7,122.3 151.0,122.5 150.2,122.5 149.5,122.6 148.8,122.9 148.3,123.3 147.9,123.8 147.5,124.3 147.0,124.7 147.1,125.1 147.5,125.4 147.0,125.4 146.9,125.9 146.3,126.1 145.8,126.5 145.2,126.7 145.0,127.3 144.4,127.2 144.0,127.7 143.5,128.2 142.7,128.1 142.3,128.7 141.6,128.8 141.2,129.4 140.5,129.6 139.9,129.9 139.3,130.0 138.7,130.2 138.4,129.7 138.1,130.1 137.9,130.6 138.2,131.1 137.9,131.6 137.3,131.4 136.9,131.8 136.4,131.8 136.0,131.7 136.1,132.3 135.6,132.5 135.1,133.2 134.5,133.6 134.1,133.2 133.6,133.5 133.5,134.0 133.3,134.4 133.0,135.0 132.5,135.5 132.5,136.2 131.9,136.6 132.3,137.2 131.8,137.9 131.6,138.4 131.8,138.9 131.2,139.3 130.7,139.0 130.2,138.6 130.5,138.0 129.9,137.6 129.4,138.0 129.5,138.4 129.3,138.8 129.4,139.3 129.8,139.5 129.8,140.1 129.3,140.2 128.8,140.0 128.4,140.1 128.0,139.5 127.2,139.6 126.5,139.6 126.0,140.0 125.6,140.3 125.4,140.8 125.4,141.3 125.3,141.7 124.7,141.5 124.4,140.9 123.7,140.8 123.4,141.5 123.4,141.9 123.6,142.3 123.2,142.2 122.9,142.6 122.2,142.9 121.7,142.3 121.5,142.8 121.6,143.3 121.5,143.8 121.0,144.0 120.6,144.6 119.9,144.4 119.4,144.7 118.8,144.7 118.7,145.3 118.5,145.8 118.3,146.4 118.5,147.0 118.3,147.7 117.8,148.2 117.9,149.0 118.4,149.5 117.7,149.7 117.1,149.7 116.6,150.2 116.0,150.5 115.2,150.9 114.6,151.4 114.1,152.1 113.6,152.8 113.5,153.7 113.0,154.3 112.3,154.9 112.0,155.7 111.2,156.2 110.6,156.9 110.0,157.7 109.4,158.4 108.9,158.4 108.4,158.4 107.8,158.3 107.4,158.7 106.9,158.6 106.4,158.3 105.9,158.2 105.4,158.4 104.8,159.0 104.3,159.6 103.5,159.7 102.7,159.7 102.1,160.1 101.7,160.8 101.0,161.2 100.2,161.0 99.5,160.7 98.8,160.9 98.1,161.2 97.4,161.0 96.9,161.2 96.4,161.3 95.9,161.6 95.5,161.9 94.9,161.8 94.5,161.5 94.0,161.7 93.4,161.7 93.6,162.4 93.3,163.1 92.8,163.7 92.7,164.4 91.9,164.8 91.4,165.5 91.4,166.4 90.7,167.0 90.2,167.5 90.0,168.2 90.1,168.8 90.1,169.5 89.5,170.1 88.9,170.6 88.7,171.4 88.2,172.1 87.9,172.6 87.4,172.8 86.9,173.0 86.4,173.1 86.0,172.8 85.4,172.7 84.9,172.5 84.4,172.7 83.9,172.8 83.4,172.9 82.9,172.8 82.4,172.7 81.9,172.7 81.4,172.8 81.0,173.2 80.5,173.4 79.7,173.5 79.1,174.2 78.7,174.9 78.0,175.3 78.2,176.1 78.0,176.9 77.5,177.6 76.7,178.0 76.4,178.8 76.8,179.6 76.9,180.4 77.4,181.0 76.7,181.1 76.1,181.0 75.6,180.5 74.9,180.6 74.2,180.7 73.7,181.0 73.1,181.3 72.6,181.7 72.1,181.2 71.5,181.1 71.0,180.6 70.4,180.4 69.7,180.4 69.0,180.3 68.3,180.5 67.8,181.0 67.6,180.4 67.6,179.7 67.2,179.2 67.2,178.5 66.8,177.7 66.2,177.0 65.5,176.8 65.0,176.2 64.5,176.0 64.2,175.5 63.7,175.7 63.2,175.4 62.6,175.1 61.9,175.3 61.4,174.9 61.0,174.4 60.5,174.7 59.9,174.5 59.4,174.4 59.0,174.0 58.5,174.0 57.9,174.1 57.4,174.3 57.0,174.6 56.5,174.9 55.9,174.8 55.4,175.1 55.0,175.5 54.6,176.2 54.7,176.9 54.6,177.7 55.1,178.3 55.0,179.1 55.3,179.8 54.7,180.2 54.5,181.0 54.2,181.5 53.6,181.5 53.1,181.3 52.5,181.4 52.1,181.1 51.7,180.9 51.1,180.7 50.6,180.8 49.8,180.3 49.3,179.4 48.7,179.5 48.3,179.2 48.1,178.7 47.6,178.3 47.0,179.0 46.3,179.7 46.0,180.2 45.6,180.5 45.1,180.6 44.6,180.5 43.6,180.6 42.6,180.4 41.8,180.9 40.8,181.0 40.7,180.4 40.7,179.8 40.4,179.3 39.8,179.1 39.2,178.9 38.9,178.4 38.4,178.1 37.9,177.8 37.2,177.9 36.7,178.2 36.1,178.4 35.4,178.5 34.9,179.1 34.5,179.6 34.5,180.4 34.1,181.0 33.6,180.9 33.0,181.0 32.5,180.8 32.2,180.4 31.9,180.9 31.4,181.1 30.9,180.9 30.3,181.0 30.1,180.3 29.9,179.7 30.2,179.1 30.6,178.5 30.2,178.0 30.1,177.3 29.5,176.9 29.0,176.5 28.6,175.8 27.9,175.4 27.3,174.8 27.1,174.0 26.7,173.4 26.5,172.7 25.8,172.6 25.2,172.1 23.0,171.5" fill="#cccccc" stroke="none"/>
<polygon points="138.5,120.4 140.2,118.8 142.1,117.8 144.1,117.1 146.0,115.8 147.0,114.5 147.7,117.1 148.7,118.4 148.0,120.1 147.0,121.7 146.0,122.4 143.4,122.0 140.8,121.0" fill="#ffffff" stroke="#000" stroke-width="1.2"/>
<polyline points="46.6,55.0 46.8,55.6 47.2,56.2 47.3,56.9 46.8,57.4 46.6,58.0 46.3,58.5 46.5,59.2 46.0,59.7 45.5,60.5 44.5,60.6 43.8,61.1 43.0,61.5 42.8,62.0 42.4,62.5 41.9,62.4 41.3,62.7 40.8,62.9 40.3,62.8 39.9,62.4 39.4,62.1 38.7,62.0 37.9,62.1 37.6,62.8 37.1,63.3 36.7,63.7 36.7,64.2 36.2,64.5 35.7,64.5 36.2,65.4 35.9,66.3 35.5,66.8 34.8,67.1 34.2,66.8 33.5,66.9 33.0,67.1 32.7,67.4 32.3,67.8 31.9,68.1 31.4,68.4 30.9,68.1 30.4,68.3 29.9,68.1 29.4,68.8 29.1,69.6 28.4,70.1 27.6,70.4 27.2,70.9 26.9,71.5 26.4,71.9 25.8,72.2 25.0,72.4 24.5,73.0 23.7,72.9 23.0,73.2" fill="none" stroke="#1e1e1e" stroke-width="0.9"/>
<polyline points="35.9,66.3 36.2,67.2 35.9,68.1 35.9,68.7 36.4,69.0 36.5,69.6 36.9,69.9 37.1,70.5 37.7,70.6 38.2,71.0 38.2,71.6 38.3,72.6 39.0,73.3 39.3,73.8 39.5,74.2 39.7,74.7 39.4,75.2 39.3,76.2 39.7,77.1 40.1,77.9 40.6,78.7 40.5,79.3 40.7,79.9 40.4,80.5 40.3,81.1 40.7,81.5 41.0,82.0 41.2,82.6 41.8,82.9 41.8,83.6 42.4,84.1" fill="none" stroke="#1e1e1e" stroke-width="0.9"/>
<polyline points="70.0,46.5 70.2,47.2 69.8,47.7 69.8,48.4 70.1,49.0 69.6,49.5 69.8,50.2 69.7,50.8 70.0,51.4 70.3,51.9 70.5,52.4 70.3,52.9 70.4,53.5 71.0,53.6 71.4,54.1 72.1,54.2 72.4,54.7 72.6,55.4 73.0,55.9 73.0,56.6 72.5,57.1 73.0,57.6 73.4,58.3 73.1,59.0 73.5,59.7 73.6,60.2 73.7,60.7 73.3,61.1 73.0,61.5 72.4,61.3 71.7,61.5 71.1,61.9 70.9,62.5 70.5,63.1 70.0,63.7 69.3,64.1 68.6,64.3 67.9,64.5 67.6,65.2 67.8,65.8 67.5,66.5 67.9,67.4 67.8,68.3 67.6,69.2 66.9,69.9 67.1,70.6 67.5,71.2 67.9,71.8 68.0,72.5" fill="none" stroke="#1e1e1e" stroke-width="0.9"/>
<polyline points="70.9,73.9 71.5,73.9 72.1,74.0 72.4,74.4 72.6,75.0 72.8,75.7 73.4,75.9 73.8,76.4 74.3,76.7 74.4,77.6 74.8,78.4 74.9,79.3 75.4,80.1 75.1,80.8 75.3,81.5 75.5,82.2 76.2,82.5 75.7,83.0 75.2,83.3 75.1,84.0 74.8,84.6 74.9,85.4 75.2,86.1 75.1,87.0 74.3,87.4 74.3,88.1 73.9,88.7 73.3,89.1 72.6,89.1 71.7,89.5 70.8,89.1 70.4,89.4 69.9,89.3 69.4,89.0 69.2,88.5 68.6,88.4 68.1,88.7 67.8,88.3 67.4,87.9 66.8,87.9 66.4,87.7 66.0,87.3 65.8,86.8 65.2,86.6 64.8,86.1 64.7,85.4 64.1,85.1 64.2,84.5 64.4,83.8 63.9,83.4 63.5,82.9 62.8,82.7 62.4,82.0 62.3,81.3 62.4,80.6 62.0,80.1 61.3,80.0 60.8,79.6 60.7,78.9 60.1,78.1 60.5,77.2" fill="none" stroke="#1e1e1e" stroke-width="0.9"/>
<polyline points="45.4,83.3 46.1,83.6 46.3,84.3 46.8,84.8 47.3,85.3 47.9,84.9 48.6,84.4 49.1,85.1 50.0,85.0 50.7,85.7 51.6,86.0 52.4,85.6 53.4,85.7 54.3,85.7 54.9,86.3 55.4,87.1 56.2,87.4 56.7,87.9 57.3,88.0 58.0,88.1 58.5,88.5 58.8,89.1 59.4,89.5 59.1,90.2 59.6,90.8 58.8,91.2 58.5,92.0 58.2,92.8 58.5,93.6 58.1,93.9 57.5,93.9 57.1,94.3 56.8,94.7 56.1,95.0 55.4,95.0 55.5,95.6 55.0,96.0 54.6,96.3 54.0,96.3 53.5,96.7 53.2,97.3 52.5,97.2 52.0,97.7" fill="none" stroke="#1e1e1e" stroke-width="0.9"/>
<polyline points="35.9,85.9 35.9,86.6 36.5,87.0 37.1,87.5 37.7,87.2 38.3,87.4 38.7,87.9 39.2,88.2 39.4,88.8 39.9,88.6 40.3,88.3 40.8,88.6 41.3,88.5 41.6,88.9 42.0,89.3 42.5,89.4 43.0,89.4 43.7,89.5 44.1,90.1 44.8,90.2 45.4,90.0 45.1,90.9 45.3,91.8 45.8,92.6 46.6,93.0 47.1,93.2 47.6,93.1 48.0,93.4 48.3,93.8 48.5,94.4 49.0,94.5 49.5,94.6 50.0,94.7 50.0,95.2 50.2,95.7 50.8,95.7 51.2,96.1 51.9,96.7 52.0,97.7" fill="none" stroke="#1e1e1e" stroke-width="0.9"/>
<polyline points="37.4,107.7 37.3,108.3 37.5,108.9 38.1,109.0 38.5,109.6 37.9,109.9 37.9,110.6 37.8,111.1 38.0,111.7 38.6,112.1 38.6,112.8 39.3,113.2 39.4,113.9 39.1,114.6 39.0,115.3 39.5,115.9 40.0,116.4 39.8,117.0 40.1,117.6 39.8,118.2 40.0,118.9 40.7,118.9 41.3,119.3 41.8,119.8 42.0,120.4 42.9,120.6 43.9,120.6 44.8,120.9 45.4,121.7 46.2,121.9 46.8,121.3 47.5,121.6 48.1,122.1 48.7,122.4 49.4,122.5 49.9,123.0 50.7,123.0 51.3,123.5 51.9,124.0 52.7,123.9 53.4,123.8 54.2,123.7 54.7,124.4 55.4,124.7 56.0,125.0 56.5,124.8 56.8,124.4 57.4,124.4 57.8,124.7 58.6,125.2 59.4,125.7 59.5,125.2 59.9,124.8 60.0,124.3 60.2,123.8 60.4,123.2 60.2,122.7 59.9,122.3 60.0,121.7 59.5,120.9 59.5,120.0 58.9,119.3 58.7,118.4 59.1,117.6 59.6,116.8 59.5,115.9 59.4,115.0 59.4,114.4 59.4,113.8 59.0,113.3 58.5,113.0 58.1,112.6 57.6,112.3 57.2,111.9 56.7,111.7 56.3,111.3 56.0,110.9 55.8,110.3 55.3,110.1 55.3,109.5 54.8,109.1 54.6,108.6 54.0,108.4 53.9,107.8 53.3,107.5 53.0,106.9 52.5,106.7 51.9,106.3 51.8,105.6 51.8,105.0 52.0,104.4 51.3,104.3 50.9,103.8 50.8,103.2 50.4,102.7 50.9,102.2 50.9,101.5 50.6,101.0 50.7,100.3 51.3,99.8 51.7,99.2 51.5,98.4 52.0,97.7" fill="none" stroke="#1e1e1e" stroke-width="0.9"/>
<polyline points="23.0,115.8 23.6,116.2 24.3,115.9 24.7,115.3 25.3,115.0 25.8,114.8 26.3,114.6 26.8,114.8 27.3,114.4 27.5,113.8 28.0,113.5 28.0,113.0 28.0,112.4 28.3,111.8 28.9,111.6 29.4,111.2 30.0,111.1 30.5,110.5 31.2,110.6 31.6,110.2 32.0,109.7 32.2,109.1 32.7,108.6 33.3,108.7 33.9,108.6 34.4,108.1 35.0,108.1 35.6,108.2 36.0,107.7 36.9,107.8 37.4,108.6 38.1,108.1 38.9,107.9 39.6,107.4 39.8,106.5 40.6,106.2 41.4,106.4 42.2,106.2 42.5,105.4 43.3,105.2 43.8,104.6 44.5,104.2 45.3,104.4 45.9,105.0 46.7,105.0 47.6,105.1 48.4,104.8 49.1,104.2 50.0,104.4 50.6,104.3 51.0,103.9 51.5,104.1 52.0,104.4" fill="none" stroke="#1e1e1e" stroke-width="0.9"/>
<polyline points="72.6,89.1 73.1,89.4 73.6,89.4 74.2,89.3 74.6,88.8 75.0,89.2 75.6,89.2 76.0,89.6 76.0,90.2 76.9,90.2 77.9,90.3 78.5,89.6 79.3,89.1 79.8,89.0 80.4,89.1 80.5,88.6 81.1,88.4 81.9,87.9 82.7,87.4 82.7,86.8 83.1,86.4 83.3,85.9 83.9,85.7 83.6,85.0 83.9,84.3 84.3,83.7 85.0,83.4 85.5,82.8 85.6,82.1 86.0,81.5 86.7,81.2 87.2,80.4 88.1,80.1 88.7,79.4 89.5,78.9 89.4,78.3 89.9,77.8 90.4,77.6 90.7,77.1 91.3,77.0 91.8,77.2 92.4,77.2 92.9,77.2 93.5,77.2 93.9,76.9 94.4,77.2 94.9,77.5 95.6,76.8 96.3,76.1 97.0,76.3 97.6,76.0" fill="none" stroke="#1e1e1e" stroke-width="0.9"/>
<polyline points="82.7,87.4 82.7,88.4 82.7,89.4 82.2,89.7 82.2,90.3 82.3,90.8 82.2,91.3 81.3,91.3 80.4,91.6 79.8,92.2 79.3,93.0 78.6,93.6 77.7,94.0 77.5,94.6 77.0,94.8 76.5,95.0 76.0,94.7 75.5,95.1 74.9,95.1 74.3,95.3 73.8,95.0 73.1,94.9 72.6,95.3 72.2,95.7 72.0,96.3 71.9,97.2 71.3,97.9 70.8,98.6 70.0,99.0 70.0,99.6 69.9,100.2 69.6,100.7 69.1,101.0 68.4,101.1 68.0,101.7 68.0,102.4 68.0,103.0 68.1,103.8 68.8,104.2 68.9,105.0 68.8,105.7 69.3,106.0 69.7,106.5 69.6,107.1 69.4,107.7 69.6,108.2 69.4,108.7 69.4,109.2 69.4,109.7 70.4,109.6 71.0,110.3 71.7,110.9 72.2,111.6 72.7,111.9 73.0,112.3 73.1,112.8 72.9,113.4 72.4,114.1 72.0,115.0 72.1,115.8 72.5,116.4 72.9,117.1 73.6,117.4 73.9,118.1 74.0,118.9 74.8,119.2 75.4,119.7 75.6,120.3 76.1,120.8 75.9,121.4 75.9,122.1 76.6,122.3 77.2,122.0 77.4,122.7 78.1,123.0 78.1,123.7 78.4,124.3 78.5,125.0 79.0,125.5" fill="none" stroke="#1e1e1e" stroke-width="0.9"/>
<polyline points="59.4,125.7 60.0,125.8 60.7,125.9 61.0,126.5 61.4,127.0 62.2,127.4 63.2,127.2 64.0,126.9 64.7,126.4 65.6,126.1 66.3,125.5 66.8,124.6 66.8,123.7 67.5,123.1 68.5,123.2 69.2,123.6 69.8,124.3 70.5,124.9 71.4,124.8 71.6,125.6 72.0,126.4 72.7,126.6 73.4,126.6 74.1,126.5 74.8,126.4 75.5,126.1 75.9,125.3 76.6,125.7 77.4,125.7 77.8,125.3 78.1,124.8 78.2,124.2 78.7,123.9 79.0,123.4 79.6,123.1 79.5,122.5 80.0,122.0 80.4,121.4 81.1,121.1 81.5,120.5 81.6,119.8 82.3,119.9 83.1,119.9 83.5,119.2 84.0,118.7 84.6,118.8 85.1,118.6 85.6,118.3 86.0,118.0 86.5,117.7 87.0,117.9 87.4,117.4 88.0,117.4 88.6,117.4 89.1,117.6 89.6,117.4 90.1,117.1 90.7,116.8 91.3,117.1 91.8,117.4 92.0,118.0 92.0,118.6 92.3,119.1 92.8,119.4 93.0,120.0 93.4,120.3 93.8,120.7 94.3,121.0 94.7,121.4 95.3,121.3 95.9,121.6 96.6,121.5 96.8,120.8 97.4,121.2 97.5,121.9 98.1,121.9 98.7,122.0 98.7,122.6 98.7,123.1 99.2,123.4 99.6,123.8 100.1,124.2 100.6,124.0 101.1,124.2 101.4,124.7 102.0,124.8 102.6,124.9 102.7,125.6 103.3,125.9 103.9,126.1 104.5,125.9 105.0,126.3 105.4,126.7 105.8,127.1 105.8,127.7 106.1,128.2 106.6,128.4 107.2,128.2 107.7,128.5 108.2,128.3 108.7,128.7 109.6,129.1 110.4,129.7 111.3,130.0 112.0,130.7 113.0,130.5 114.0,130.7 114.3,131.1 114.8,131.2 115.3,131.4 115.4,132.0 115.8,132.5 115.7,133.2 116.1,133.7 116.7,133.8 117.0,134.4 117.7,134.5 118.3,134.5 118.8,134.7 119.5,135.3 120.0,136.0 120.0,136.6 120.6,136.9 120.8,137.5 121.0,138.0 121.5,138.5 121.9,139.1 122.4,139.7 122.5,140.5" fill="none" stroke="#1e1e1e" stroke-width="0.9"/>
<polyline points="97.4,123.0 97.2,123.6 97.4,124.1 97.1,124.6 96.7,124.9 96.1,124.9 95.6,124.7 95.2,125.1 94.7,125.4 94.4,125.9 93.9,126.4 93.2,126.2 92.7,126.7 92.0,126.6 91.4,126.9 91.0,127.4 90.7,128.0 90.2,128.0 89.7,128.0 89.3,128.4 89.1,128.9 89.1,129.4 89.3,129.9 89.0,130.3 88.7,130.7 88.7,131.2 88.4,131.7 88.7,132.2 88.5,132.8 88.7,133.4 88.5,134.0 89.0,134.3 89.4,134.7 89.7,135.2 89.7,135.8 89.4,136.4 89.5,137.0 88.9,137.6 88.1,137.8 87.9,138.7 88.0,139.5 87.9,140.0 87.6,140.5 87.7,141.0 87.4,141.5 87.4,142.1 87.0,142.5 86.4,142.5 86.0,143.0 86.1,143.9 85.7,144.7 85.1,145.5 85.3,146.4 85.8,147.1 86.3,147.8 87.1,147.4 88.0,147.7 88.5,147.1 89.1,146.6 90.0,146.3 90.7,146.8 91.5,146.6 92.2,146.8 92.8,147.3 93.4,147.7 94.0,148.2 94.4,148.8 95.2,148.9 95.9,149.2 96.6,148.9 97.3,148.8 98.0,148.5 98.7,148.4 99.4,148.5 99.8,147.9 100.4,147.8 101.0,148.1 101.4,148.5 101.9,148.9 102.1,149.5 102.7,149.7 103.5,150.0 104.1,150.7 104.6,151.5 104.7,152.4 105.0,153.2 105.2,154.0 104.9,154.9 105.4,155.7 105.0,156.4 105.2,157.2 105.9,157.6 106.0,158.4" fill="none" stroke="#1e1e1e" stroke-width="0.9"/>
<polyline points="60.0,127.0 59.6,127.9 59.7,128.9 59.2,128.9 58.7,128.9 58.3,129.3 58.0,129.7 57.5,130.0 57.5,130.6 57.0,130.8 56.7,131.3 56.4,130.8 55.8,130.7 55.3,131.0 54.7,131.0 54.6,131.7 54.4,132.4 53.8,132.7 53.3,133.3 52.6,132.9 51.9,132.9 51.2,133.2 50.7,133.8 50.2,133.9 49.7,134.1 49.3,134.5 48.8,134.3 48.4,134.7 47.8,134.8 47.4,135.2 47.4,135.8 47.0,136.3 46.3,136.7 46.2,137.4 45.6,137.8 45.2,138.3 45.0,138.9 45.1,139.6 44.7,140.2 44.4,140.8 44.1,141.4 43.4,141.5 42.7,141.7 42.5,142.6 41.9,143.2 41.2,143.7 40.7,144.4 41.2,144.8 41.6,145.1 41.6,145.8 42.1,146.2 41.6,146.6 41.6,147.2 41.5,147.8 41.4,148.4 41.5,149.2 41.1,149.9 40.3,150.2 40.0,151.0 39.3,150.8 38.8,150.4 38.1,150.8 37.4,150.4 36.7,150.5 36.0,150.5 35.4,150.9 34.7,151.1 34.0,150.8 33.3,151.1 32.7,151.6 32.0,151.7 31.5,152.3 30.9,152.8 30.2,153.0 29.5,153.4 28.7,153.1 27.9,153.4 27.5,152.7 26.7,152.4 25.8,152.9 24.8,152.7 24.3,152.6 23.8,152.4 23.3,152.5 23.0,153.0" fill="none" stroke="#1e1e1e" stroke-width="0.9"/>
<polyline points="23.0,132.3 23.5,132.0 24.2,132.0 24.7,132.4 25.3,132.4 26.0,132.7 26.8,132.9 27.3,132.3 28.1,132.1 28.8,132.0 29.5,132.1 30.0,132.7 30.7,133.0 31.2,132.9 31.7,133.1 32.1,133.5 32.7,133.4 33.3,133.5 33.6,134.0 34.0,134.5 33.8,135.1 34.4,135.3 34.9,135.0 35.3,134.7 35.5,134.2 36.0,134.6 36.6,134.5 36.9,134.1 37.4,133.8 37.9,134.2 38.5,134.3 38.9,133.7 39.6,133.7 40.1,134.1 40.4,134.5 40.9,134.7 41.4,135.0 42.1,134.7 42.8,135.1 43.4,135.4 43.8,136.0 44.1,136.6 44.8,136.7 45.4,137.1 45.6,137.8" fill="none" stroke="#1e1e1e" stroke-width="0.9"/>
<polyline points="40.0,151.0 40.3,151.4 40.8,151.6 40.9,152.1 41.4,152.4 41.6,153.4 41.7,154.4 42.1,154.2 42.7,154.1 43.2,154.1 43.7,153.8 44.2,153.8 44.8,154.1 44.9,154.7 45.4,155.0 46.1,155.4 47.0,155.3 47.6,155.9 48.5,155.9 49.0,155.9 49.4,156.3 49.3,156.8 49.7,157.2 49.8,158.2 49.4,159.0 49.4,159.6 49.1,160.2 49.6,160.7 49.8,161.3 49.9,161.9 50.2,162.5 50.9,162.6 51.4,163.0 51.7,163.5 51.7,164.1 51.9,164.6 51.6,165.2 51.5,165.8 51.9,166.2 52.2,166.7 52.7,167.0 53.2,167.5 53.4,168.2 53.1,168.9 52.7,169.5 52.7,170.3 53.3,170.8 54.0,170.8 54.7,171.0 55.2,171.6 55.6,172.4 55.7,173.2 55.7,174.0" fill="none" stroke="#1e1e1e" stroke-width="0.9"/>
<polyline points="23.0,163.3 23.8,163.7 24.1,164.6 25.0,164.8 25.8,164.5 25.6,165.3 26.0,166.1 26.5,166.7 27.1,167.2 27.9,167.4 28.5,167.8 29.1,168.3 29.6,168.9 30.4,169.2 30.9,169.8 30.7,170.6 30.9,171.4 31.7,171.2 32.4,171.7 33.2,171.9 33.5,172.7 33.9,173.3 34.6,173.4 34.7,174.1 35.3,174.4 35.8,175.0 35.9,175.7 36.6,175.5 37.3,175.9 38.2,176.3 39.1,176.6 39.2,177.1 39.2,177.6 39.7,178.0 39.8,178.5" fill="none" stroke="#1e1e1e" stroke-width="0.9"/>
<polyline points="118.7,84.0 119.4,84.6 120.0,85.4 119.6,85.9 119.5,86.5 119.2,87.0 119.4,87.7 119.5,88.3 119.2,88.8 119.1,89.5 119.4,90.0 119.5,90.7 119.4,91.4 119.4,92.1 119.7,92.8 119.9,93.5 119.6,94.3 119.3,95.0 118.7,95.4 119.0,96.0 119.4,96.6 120.2,96.6 120.8,96.9 120.7,97.6 121.3,98.1 121.3,98.8 121.4,99.4 121.8,99.9 122.4,100.3 123.0,100.7 123.7,100.4 124.2,100.8 124.8,101.2 124.7,101.9 125.0,102.5 125.8,102.8 125.9,103.7 126.7,103.5 127.4,103.7 127.8,103.1 128.6,102.8 129.2,103.3 130.0,103.0 130.5,103.3 131.0,103.7 131.6,103.7 132.1,103.3 132.7,103.1 133.2,103.2 133.8,103.4 134.3,103.2 134.7,103.8 134.6,104.4 135.1,104.8 135.7,105.0 135.7,105.9 135.1,106.7 135.2,107.5 135.0,108.4 135.0,109.0 134.8,109.6 134.3,109.9 133.9,110.4 133.3,110.6 132.7,110.5 132.4,111.0 131.7,111.0 131.0,111.6 130.6,112.5 130.0,113.3 129.0,113.5 128.9,114.0 128.5,114.4 128.0,114.6 127.7,115.0 127.7,115.7 127.0,116.2 127.0,116.9 126.5,117.4 126.1,117.7 125.8,118.1 125.6,118.6 125.1,118.9 124.7,119.3 124.5,119.8 123.9,119.9 123.4,120.0 123.3,120.6 123.7,121.0 123.8,121.6 123.6,122.1 123.4,122.6 123.1,123.0 123.0,123.5 122.8,124.0 122.2,124.6 121.5,125.0 121.9,125.8 121.7,126.7 122.0,127.4 121.9,128.2 122.7,128.5 122.8,129.4 122.3,129.7 122.1,130.3 121.7,130.7 121.2,131.1 121.0,131.7 120.8,132.3 121.3,132.7 121.4,133.4 121.4,134.2 121.4,135.1 120.6,135.4 120.0,136.0" fill="none" stroke="#1e1e1e" stroke-width="0.9"/>
<polyline points="120.0,86.0 120.5,86.1 121.0,86.4 121.5,86.4 122.1,86.4 122.6,86.7 122.9,87.1 123.0,87.7 123.1,88.3 123.6,88.1 124.2,88.0 124.6,88.5 125.1,88.7 125.7,88.4 126.3,88.5 126.3,87.8 126.8,87.4 127.4,87.7 127.6,88.4 127.7,89.1 128.3,89.5 128.9,89.6 129.5,89.3 130.2,89.4 130.8,89.4 131.5,89.3 131.9,88.8 132.6,88.8 133.2,89.1 133.7,88.8 133.9,88.2 134.5,88.0 134.8,87.4 135.2,86.9 135.6,86.4 136.3,86.3 136.9,86.1 137.5,85.8 138.1,86.1 138.7,86.1 139.3,86.4 140.0,86.1 140.7,86.5 141.2,86.1 141.7,85.6 142.1,84.9 142.8,84.9 143.3,84.4 143.4,83.7 143.9,83.4 144.4,83.1 144.8,82.7 145.1,82.2 145.7,82.1 146.3,82.1 146.8,82.4 147.4,82.5 148.2,82.6 149.1,82.7 149.9,82.5 150.7,82.3 151.6,82.1 152.5,81.6 153.2,82.2 154.0,82.7 154.4,83.2 154.9,83.3 155.5,83.3 156.0,83.3 156.5,83.6 157.0,83.9 157.4,84.4 157.4,85.0 158.0,85.4 158.1,86.1 158.4,86.6 158.7,87.2 158.8,87.9 158.3,88.5 158.1,89.1 158.0,89.7 157.8,90.3 158.0,90.8 158.2,91.3 158.5,91.8 158.4,92.4 158.3,93.0 157.8,93.4 157.2,93.6 157.0,94.2 157.3,94.8 156.7,95.1 156.6,95.8 156.6,96.4 157.1,96.9 157.7,97.1 158.0,97.6 157.6,98.1 157.8,98.7 157.5,99.3 157.7,99.9 158.2,100.3 158.8,100.3 158.8,101.0 159.4,101.4 160.2,101.5 160.9,101.9 160.9,102.7 161.4,103.4 162.4,103.2 162.9,102.4 163.8,102.3 164.7,102.7" fill="none" stroke="#1e1e1e" stroke-width="0.9"/>
<polyline points="207.8,69.0 207.6,69.5 207.5,70.0 206.9,70.1 206.6,70.5 206.9,71.0 206.9,71.5 206.8,72.0 206.6,72.5 206.8,73.0 206.7,73.6 206.4,74.1 205.8,74.3 205.3,74.4 204.8,74.7 204.4,75.1 204.4,75.7 204.3,76.3 203.8,76.6 203.8,77.1 203.8,77.6 203.4,77.9 202.9,78.0 202.3,78.2 202.1,78.7 201.6,79.3 201.1,80.0 200.4,80.5 200.3,81.4 199.7,81.5 199.2,81.8 199.2,82.4 199.0,82.9 198.5,82.9 198.0,82.6 197.4,82.5 197.0,83.0 196.5,82.9 196.0,83.2 195.5,83.2 195.0,83.1 194.4,83.2 194.1,83.6 193.5,83.8 193.0,83.5 192.4,83.6 191.8,83.4 191.3,83.6 190.8,84.0 190.4,83.5 189.9,83.2 189.4,83.0 189.0,82.6 188.8,83.3 188.1,83.6 187.4,83.8 186.8,83.4 186.1,83.4 185.4,83.3 184.8,82.9 184.1,83.0 183.6,83.6 182.8,83.8 182.1,83.5 181.4,83.4 181.7,84.1 181.2,84.8 180.7,85.2 180.0,85.4 180.5,85.7 180.8,86.2 181.0,86.7 181.3,87.2 181.3,87.8 180.9,88.3 180.8,88.8 180.8,89.4 181.4,90.0 182.2,90.0 182.7,90.6 182.9,91.3 183.7,91.4 184.2,92.0 184.4,92.7 184.8,93.4 184.8,94.0 184.6,94.5 185.0,95.0 185.1,95.6 185.7,95.8 186.3,95.8 186.5,96.4 186.8,97.0" fill="none" stroke="#1e1e1e" stroke-width="0.9"/>
<polyline points="23.0,57.6 25.8,57.4 32.0,57.0 36.0,56.6 40.6,55.8 42.5,55.0 44.0,53.4 45.0,51.0 45.4,49.4 48.0,48.2 50.7,47.4 53.4,45.4 54.7,42.0 56.0,40.7" fill="none" stroke="#000" stroke-width="1.1"/>
<polyline points="109.4,158.4 108.9,158.4 108.4,158.4 107.8,158.3 107.4,158.7 106.9,158.6 106.4,158.3 105.9,158.2 105.4,158.4 104.8,159.0 104.3,159.6 103.5,159.7 102.7,159.7 102.1,160.1 101.7,160.8 101.0,161.2 100.2,161.0 99.5,160.7 98.8,160.9 98.1,161.2 97.4,161.0 96.9,161.2 96.4,161.3 95.9,161.6 95.5,161.9 94.9,161.8 94.5,161.5 94.0,161.7 93.4,161.7 93.6,162.4 93.3,163.1 92.8,163.7 92.7,164.4 91.9,164.8 91.4,165.5 91.4,166.4 90.7,167.0 90.2,167.5 90.0,168.2 90.1,168.8 90.1,169.5 89.5,170.1 88.9,170.6 88.7,171.4 88.2,172.1 87.9,172.6 87.4,172.8 86.9,173.0 86.4,173.1 86.0,172.8 85.4,172.7 84.9,172.5 84.4,172.7 83.9,172.8 83.4,172.9 82.9,172.8 82.4,172.7 81.9,172.7 81.4,172.8 81.0,173.2 80.5,173.4 79.7,173.5 79.1,174.2 78.7,174.9 78.0,175.3 78.2,176.1 78.0,176.9 77.5,177.6 76.7,178.0 76.4,178.8 76.8,179.6 76.9,180.4 77.4,181.0 76.7,181.1 76.1,181.0 75.6,180.5 74.9,180.6 74.2,180.7 73.7,181.0 73.1,181.3 72.6,181.7 72.1,181.2 71.5,181.1 71.0,180.6 70.4,180.4 69.7,180.4 69.0,180.3 68.3,180.5 67.8,181.0 67.6,180.4 67.6,179.7 67.2,179.2 67.2,178.5 66.8,177.7 66.2,177.0 65.5,176.8 65.0,176.2 64.5,176.0 64.2,175.5 63.7,175.7 63.2,175.4 62.6,175.1 61.9,175.3 61.4,174.9 61.0,174.4 60.5,174.7 59.9,174.5 59.4,174.4 59.0,174.0 58.5,174.0 57.9,174.1 57.4,174.3 57.0,174.6 56.5,174.9 55.9,174.8 55.4,175.1 55.0,175.5 54.6,176.2 54.7,176.9 54.6,177.7 55.1,178.3 55.0,179.1 55.3,179.8 54.7,180.2 54.5,181.0 54.2,181.5 53.6,181.5 53.1,181.3 52.5,181.4 52.1,181.1 51.7,180.9 51.1,180.7 50.6,180.8 49.8,180.3 49.3,179.4 48.7,179.5 48.3,179.2 48.1,178.7 47.6,178.3 47.0,179.0 46.3,179.7 46.0,180.2 45.6,180.5 45.1,180.6 44.6,180.5 43.6,180.6 42.6,180.4 41.8,180.9 40.8,181.0 40.7,180.4 40.7,179.8 40.4,179.3 39.8,179.1 39.2,178.9 38.9,178.4 38.4,178.1 37.9,177.8 37.2,177.9 36.7,178.2 36.1,178.4 35.4,178.5 34.9,179.1 34.5,179.6 34.5,180.4 34.1,181.0 33.6,180.9 33.0,181.0 32.5,180.8 32.2,180.4 31.9,180.9 31.4,181.1 30.9,180.9 30.3,181.0 30.1,180.3 29.9,179.7 30.2,179.1 30.6,178.5 30.2,178.0 30.1,177.3 29.5,176.9 29.0,176.5 28.6,175.8 27.9,175.4 27.3,174.8 27.1,174.0 26.7,173.4 26.5,172.7 25.8,172.6 25.2,172.1" fill="none" stroke="#000" stroke-width="1.2"/>
<polyline points="216.6,90.8 218,93.5 219.7,97.4" fill="none" stroke="#000" stroke-width="1"/>
<polyline points="27.5,13.0 28.0,14.0 33.4,19.8 30.7,22.9 30.2,26.5 31.0,28.2" fill="none" stroke="#111" stroke-width="0.7"/>
<polyline points="44.9,27.8 46.5,30.5 48.7,33.8 50.9,37.1 54.2,39.8 56.4,40.9" fill="none" stroke="#111" stroke-width="0.7"/>
<polyline points="176.6,13.0 176.8,16.0 176.8,19.3 178.2,23.8 180.0,23.4 181.0,21.5 184.0,20.6 187.7,20.2 191.4,19.7 194.0,18.8 196.8,17.5 199.5,17.0 198.6,15.6 203.0,15.2 204.0,18.8 205.0,15.6 206.8,13.0" fill="none" stroke="#111" stroke-width="1.2"/>
<polyline points="109.4,158.4 108.0,159.0 106.7,161.7 106.0,165.7 108.0,168.4 112.0,170.4 116.0,171.0 116.7,173.8 120.0,176.4 124.0,179.0 126.0,181.0" fill="none" stroke="#111" stroke-width="0.7"/>
<polyline points="23.0,24.5 23.9,24.7 24.9,24.7 24.6,25.4 24.5,26.1 24.9,26.7 25.1,27.5 25.6,28.0 26.4,28.0 27.1,28.3 27.6,28.7 28.5,28.9 29.3,28.7 30.2,28.9 31.0,28.2 31.9,28.1 32.5,27.4 33.3,27.5 33.6,28.3 34.1,28.9 34.2,29.6 34.8,29.7 35.4,29.7 35.9,30.1 36.5,30.0 37.1,30.0 37.6,29.6 37.9,30.1 38.5,30.3 39.0,30.1 39.6,29.9 39.6,29.3 40.0,28.9 40.6,29.2 41.2,29.1 41.8,28.9 42.2,28.4 43.0,28.4 43.8,28.6 44.1,27.8 44.9,27.5 45.3,27.0 45.3,26.3 45.2,25.7 45.5,25.1 46.3,24.7 46.4,23.9 46.2,23.1 46.5,22.4 47.0,22.0 47.2,21.4 47.4,20.8 47.6,20.2 47.8,19.5 48.4,19.0 49.2,18.9 49.8,18.5 50.2,18.1 50.8,18.2 51.3,18.3 51.8,18.0 52.1,17.6 52.6,17.4 52.9,16.9 53.0,16.4 53.5,16.7 53.9,17.0 54.4,16.8 55.0,16.7 55.8,16.1 56.4,15.3 56.2,14.6 56.5,13.9 56.8,13.3 57.5,13.0" fill="none" stroke="#000" stroke-width="1.4"/>
<circle cx="80.4" cy="15.9" r="1.1" fill="#fff" stroke="#000" stroke-width="0.7"/>
<polyline points="56.0,40.7 57.0,41.1 57.9,41.5 59.0,41.6 60.0,42.0 61.1,42.4 61.9,43.1 62.9,43.7 64.0,44.0 64.6,44.4 65.2,44.8 65.9,45.0 66.6,45.3 67.3,45.4 68.0,45.6 68.7,45.9 69.4,46.0 70.1,45.9 70.8,46.2 71.5,45.9 72.2,45.8 72.8,46.1 73.5,46.1 74.2,46.4 74.8,46.7 75.5,46.8 76.2,47.1 76.9,47.0 77.6,46.9 78.2,47.2 78.9,47.2 79.6,47.5 80.3,47.5 81.4,47.3 82.5,47.4 83.6,47.0 84.7,46.9 85.3,46.8 85.9,46.6 86.4,46.3 86.9,45.9 87.5,45.8 88.1,45.6 88.7,45.7 89.3,45.7 90.4,45.5 91.5,45.8 92.6,45.7 93.7,45.7 94.4,46.1 94.9,46.6 95.7,46.7 96.4,47.0 96.7,47.8 97.1,48.4 97.2,49.3 97.6,50.0 98.3,50.8 98.7,51.8 99.3,52.1 99.7,52.6 100.2,53.0 100.5,53.6 101.2,54.5 102.0,55.3 102.7,56.1 103.2,57.1 103.1,57.7 102.9,58.3 102.5,58.9 102.4,59.5 102.4,60.1 102.2,60.7 102.1,61.4 102.3,62.0 101.9,63.1 101.1,64.0 100.2,64.5 99.3,64.8 98.5,65.2 97.9,66.0 97.3,66.8 97.0,67.8 96.8,68.9 96.8,70.0 97.0,70.7 97.2,71.4 97.3,72.4 97.6,73.4 97.7,74.4 97.4,75.4 98.2,76.1 98.9,76.9 99.7,77.7 100.0,78.7 100.6,79.1 101.3,79.3 102.0,79.4 102.7,79.6 103.4,79.9 104.0,80.2 104.8,80.3 105.4,80.7 106.4,81.0 107.4,81.4 108.4,81.8 109.4,82.0 110.0,82.2 110.7,82.4 111.3,82.7 112.0,82.9 112.7,82.7 113.3,82.7 114.0,82.8 114.7,82.7 115.6,83.3 116.6,83.7 117.6,84.0 118.7,84.0 119.7,84.1 120.8,84.0 121.8,83.8 122.8,83.4 123.8,82.9 124.8,82.7 125.8,82.4 126.8,82.0 127.3,81.0 127.8,80.1 128.7,79.5 129.4,78.7 130.0,78.1 130.5,77.5 130.9,76.7 131.4,76.0 131.9,75.3 132.4,74.7 132.9,74.1 133.4,73.4 134.2,72.9 134.9,72.3 135.8,72.0 136.5,71.4 137.1,71.1 137.5,70.8 138.0,70.3 138.4,70.0 139.6,69.6 140.7,69.2 141.4,68.6 142.4,68.4 142.9,67.7 143.5,67.0 144.1,66.2 144.5,65.2 145.4,64.7 146.0,63.8 145.1,63.3 144.2,62.9 145.1,62.5 146.0,62.5 146.7,62.4 147.4,62.3 148.0,62.2 148.7,62.0 149.6,61.6 150.4,61.0 151.3,60.6 152.0,60.0 152.6,59.9 153.2,59.6 153.7,59.4 154.4,59.4 155.0,59.2 155.6,59.1 156.2,59.0 156.7,58.7 157.4,58.5 158.1,58.4 158.6,57.9 159.2,57.6 159.9,57.4 160.6,57.3 161.3,57.2 162.0,57.4 163.0,57.1 164.0,57.0 165.0,56.9 166.0,56.7 166.7,56.7 167.4,57.0 168.1,57.1 168.8,57.4 169.7,58.0 170.7,58.3 171.8,58.5 172.8,58.7 173.3,59.1 173.8,59.6 174.5,59.7 175.0,60.1 175.5,60.6 176.1,60.9 176.4,61.5 176.8,62.0 177.3,62.5 177.8,62.9 178.3,63.3 178.7,63.8 179.2,64.3 179.6,64.8 180.2,65.2 180.8,65.4 181.8,65.9 182.9,66.0 183.9,66.0 185.0,66.0 186.0,66.3 187.1,66.5 188.1,66.8 189.0,67.4 189.4,67.9 190.0,68.1 190.4,68.5 190.8,69.0 191.4,69.2 191.9,69.4 192.5,69.7 193.0,70.0 194.1,69.9 195.1,70.4 196.0,71.0 197.0,71.4 197.9,70.8 198.9,70.5 199.9,70.1 201.0,70.0 202.0,70.0 203.0,70.0 204.0,70.1 205.0,70.0 205.9,69.7 206.7,69.5 207.7,69.3 208.4,68.7 209.2,68.3 210.2,68.3 211.0,68.0 211.7,67.4 212.8,67.2 213.7,66.7 214.3,67.3 214.7,68.1 215.3,68.8 216.0,69.2 216.6,70.0 217.3,70.8 218.2,70.8 218.9,71.2 219.4,71.9 220.2,72.3 221.2,72.4 222.1,72.6 223.0,72.5 224.0,72.7 224.9,72.3 225.9,72.2 226.8,72.4 227.8,72.3 228.5,72.2 229.2,72.4 229.9,72.7 230.6,72.7 231.3,72.6 232.1,72.7 232.8,72.6 233.5,72.3 234.6,72.0 235.6,71.6 235.0,72.0 234.4,72.5 233.8,73.0 233.5,73.7 232.9,74.0 232.4,74.5 232.1,75.1 231.6,75.6 231.3,76.5 231.1,77.5 231.5,78.5 232.0,79.4 231.2,80.3 230.6,81.3 229.7,82.0 228.7,82.7 227.9,83.3 227.3,84.1 227.7,85.1 228.2,86.0 228.1,87.0 227.8,87.9 227.4,88.9 226.8,89.8 226.0,90.7 224.9,91.2 224.5,91.7 224.0,92.0 223.5,92.3 223.0,92.7 221.9,93.1 220.7,93.1 219.7,92.7 218.8,92.2 218.0,91.5 217.3,90.8 216.6,90.3 215.9,89.8 215.2,89.9 214.5,90.3 213.7,91.0 212.6,91.2 211.7,90.8 210.7,90.8 209.8,91.0 208.8,91.2 208.3,91.5 207.8,91.9 207.3,92.2 206.9,92.7 206.0,93.0 205.0,93.1 204.4,93.2 203.8,93.0 203.2,93.1 202.6,93.4 202.0,93.5 201.4,93.4 200.8,93.4 200.2,93.5 199.1,93.5 198.2,93.8 197.2,94.2 196.2,94.5 195.1,94.5 194.0,94.5 193.1,94.9 192.1,95.4 191.4,95.8 190.6,95.8 190.0,96.2 189.4,96.7 188.8,96.9 188.1,97.0 187.4,97.1 186.8,97.4 185.8,97.6 184.8,97.8 183.8,97.9 182.8,98.0 182.1,98.4 181.4,98.6 180.8,99.1 180.2,99.5 179.6,99.8 178.9,100.0 178.2,100.2 177.6,100.5 176.9,100.8 176.4,101.3 175.7,101.6 175.0,101.8 174.4,102.1 173.6,102.3 173.0,102.5 172.3,102.8 171.8,102.2 171.0,101.8 170.1,101.2 169.1,100.8 168.1,100.9 167.1,101.2 166.2,101.7 165.2,102.1 164.7,102.6 164.2,103.1 164.2,104.1 164.0,105.0 163.9,105.6 163.8,106.2 163.7,106.9 163.8,107.5 163.1,107.9 162.2,108.0 161.6,108.7 161.2,109.6 160.7,110.5 160.6,111.6 160.6,112.2 160.3,112.8 160.2,113.4 160.0,114.0 160.1,114.8 160.1,115.6 159.6,116.2 159.4,117.0 158.9,117.5 158.5,118.1 158.0,118.6 157.7,119.3 156.8,119.6 156.0,119.9 155.3,120.5 154.7,121.1 153.9,121.3 153.2,121.6 152.4,121.9 151.7,122.3 151.0,122.5 150.2,122.5 149.5,122.6 148.8,122.9 148.3,123.3 147.9,123.8 147.5,124.3 147.0,124.7 147.1,125.1 147.5,125.4 147.0,125.4 146.9,125.9 146.3,126.1 145.8,126.5 145.2,126.7 145.0,127.3 144.4,127.2 144.0,127.7 143.5,128.2 142.7,128.1 142.3,128.7 141.6,128.8 141.2,129.4 140.5,129.6 139.9,129.9 139.3,130.0 138.7,130.2 138.4,129.7 138.1,130.1 137.9,130.6 138.2,131.1 137.9,131.6 137.3,131.4 136.9,131.8 136.4,131.8 136.0,131.7 136.1,132.3 135.6,132.5 135.1,133.2 134.5,133.6 134.1,133.2 133.6,133.5 133.5,134.0 133.3,134.4 133.0,135.0 132.5,135.5 132.5,136.2 131.9,136.6 132.3,137.2 131.8,137.9 131.6,138.4 131.8,138.9 131.2,139.3 130.7,139.0 130.2,138.6 130.5,138.0 129.9,137.6 129.4,138.0 129.5,138.4 129.3,138.8 129.4,139.3 129.8,139.5 129.8,140.1 129.3,140.2 128.8,140.0 128.4,140.1 128.0,139.5 127.2,139.6 126.5,139.6 126.0,140.0 125.6,140.3 125.4,140.8 125.4,141.3 125.3,141.7 124.7,141.5 124.4,140.9 123.7,140.8 123.4,141.5 123.4,141.9 123.6,142.3 123.2,142.2 122.9,142.6 122.2,142.9 121.7,142.3 121.5,142.8 121.6,143.3 121.5,143.8 121.0,144.0 120.6,144.6 119.9,144.4 119.4,144.7 118.8,144.7 118.7,145.3 118.5,145.8 118.3,146.4 118.5,147.0 118.3,147.7 117.8,148.2 117.9,149.0 118.4,149.5 117.7,149.7 117.1,149.7 116.6,150.2 116.0,150.5 115.2,150.9 114.6,151.4 114.1,152.1 113.6,152.8 113.5,153.7 113.0,154.3 112.3,154.9 112.0,155.7 111.2,156.2 110.6,156.9 110.0,157.7 109.4,158.4" fill="none" stroke="#000" stroke-width="1.4"/>
<ellipse cx="169.8" cy="36.9" rx="1.2" ry="0.6" transform="rotate(-55 169.8 36.9)" fill="#000"/>
<ellipse cx="166" cy="39.6" rx="1.2" ry="0.6" transform="rotate(-55 166 39.6)" fill="#000"/>
<ellipse cx="163.4" cy="44.3" rx="1.3" ry="0.7" transform="rotate(-50 163.4 44.3)" fill="#000"/>
<ellipse cx="159.3" cy="46" rx="0.6" ry="0.5" transform="rotate(0 159.3 46)" fill="#000"/>
<ellipse cx="159.3" cy="49" rx="0.6" ry="0.5" transform="rotate(0 159.3 49)" fill="#000"/>
<ellipse cx="159.5" cy="52.3" rx="1.8" ry="0.8" transform="rotate(-15 159.5 52.3)" fill="#000"/>
<ellipse cx="162" cy="52.8" rx="1.5" ry="0.7" transform="rotate(-20 162 52.8)" fill="#000"/>
<ellipse cx="170.4" cy="49.6" rx="0.6" ry="0.5" transform="rotate(0 170.4 49.6)" fill="#000"/>
<ellipse cx="167.4" cy="49.3" rx="0.5" ry="0.5" transform="rotate(0 167.4 49.3)" fill="#000"/>
<polyline points="147,121.7 146.7,123.7 147,125.6 147.7,127.2" fill="none" stroke="#000" stroke-width="1.1"/>
<polyline points="103.2,57.1 104.4,58 106.2,57.4 108.2,57.7 110,58.9 108.8,59.8 108.2,61 109.4,62.2 109.1,63.4 107.6,64 105.9,64 103.5,63.6 101.1,64" fill="none" stroke="#000" stroke-width="1.3"/>
<ellipse cx="54" cy="15.4" rx="3" ry="1.3" fill="#000"/>
<line x1="143.3" y1="62.7" x2="147.2" y2="62.5" stroke="#000" stroke-width="1.4"/>
<polyline points="164.2,103.1 165.2,103.8 167.4,103.1 169.1,103.4 170.1,104.4 171.7,105.1 171.4,106.7 172.3,108 173.3,109 171.7,109.3 170.1,109.3 168.7,110.3 167.4,111.3 166.1,111 164.8,109 163.8,107.5" fill="none" stroke="#000" stroke-width="1.5"/>
<circle cx="116" cy="171" r="0.9" fill="#000"/>
<circle cx="108.7" cy="167" r="0.6" fill="#000"/>
<circle cx="131.5" cy="161.7" r="0.5" fill="#000"/>
<circle cx="132.8" cy="157" r="0.5" fill="#000"/>
<circle cx="130.7" cy="179" r="0.5" fill="#000"/>
<circle cx="153.7" cy="126.6" r="0.6" fill="#000"/>
<circle cx="187.4" cy="115.4" r="0.5" fill="#000"/>
<circle cx="170.7" cy="118.8" r="0.5" fill="#000"/>
<circle cx="166" cy="116" r="0.5" fill="#000"/>
<circle cx="172" cy="104.5" r="1.2" fill="#000"/>
<circle cx="168" cy="128.8" r="0.6" fill="#000"/>
<circle cx="142.3" cy="133.9" r="0.8" fill="#000"/>
<circle cx="129.5" cy="162.3" r="0.5" fill="#000"/>
<circle cx="132.2" cy="161.9" r="0.5" fill="#000"/>
<circle cx="109.2" cy="166.9" r="0.5" fill="#000"/>
<polyline points="23.0,99.0 25.3,98.0 28.0,95.4 29.9,94.2 33.5,87.0 35.9,85.6 41.8,83.5 45.4,82.9 48.9,79.3 52.5,78.7 56.0,77.6 59.6,77.0 61.3,75.8 65.2,74.5 68.0,72.8 70.4,71.2 72.0,68.6 73.5,66.3 77.6,65.4 81.1,65.0 83.3,63.9 85.4,62.5 86.8,60.4 87.9,58.2 88.6,56.1 89.3,53.3 90.4,49.7 91.1,46.8 91.5,45.6" fill="none" stroke="#0505ff" stroke-width="1.6"/>
<polyline points="87.5,59.7 90.4,59.7 92.5,59.0 94.7,58.2" fill="none" stroke="#0505ff" stroke-width="1.6"/>
<polyline points="77.2,62.5 79.3,60.0 81.1,57.5 82.9,54.7 84.7,51.8" fill="none" stroke="#0505ff" stroke-width="1.4" stroke-dasharray="3.2 1"/>
<polyline points="79.7,63.2 81.8,60.4 84.0,57.5 85.4,54.7" fill="none" stroke="#0505ff" stroke-width="1.4" stroke-dasharray="3.2 1"/>
<circle cx="85.1" cy="47.3" r="1.55" fill="rgba(15,130,55,0.4)" stroke="rgba(15,130,55,0.48)" stroke-width="0.5"/>
<circle cx="99.4" cy="50" r="1.55" fill="rgba(30,30,235,0.4)" stroke="rgba(30,30,235,0.48)" stroke-width="0.5"/>
<circle cx="98.5" cy="68.7" r="1.35" fill="rgba(15,130,55,0.3)" stroke="rgba(15,130,55,0.36)" stroke-width="0.5"/>
<circle cx="99.5" cy="75.9" r="3.95" fill="rgba(200,90,140,0.55)" stroke="rgba(200,90,140,0.66)" stroke-width="0.5"/>
<circle cx="99.5" cy="75.9" r="3.35" fill="rgba(105,60,200,0.8)" stroke="rgba(105,60,200,0.96)" stroke-width="0.5"/>
<circle cx="99.6" cy="76.6" r="1.05" fill="rgba(225,25,30,0.45)" stroke="rgba(225,25,30,0.54)" stroke-width="0.5"/>
<circle cx="104.7" cy="74" r="1.35" fill="rgba(15,130,55,0.4)" stroke="rgba(15,130,55,0.48)" stroke-width="0.5"/>
<circle cx="135" cy="72.2" r="1.55" fill="rgba(240,115,40,0.85)" stroke="rgba(240,115,40,1)" stroke-width="0.5"/>
<circle cx="140.4" cy="69.5" r="1.55" fill="rgba(225,25,30,0.6)" stroke="rgba(225,25,30,0.72)" stroke-width="0.5"/>
<circle cx="131.6" cy="77.4" r="1.35" fill="rgba(150,60,130,0.8)" stroke="rgba(150,60,130,0.96)" stroke-width="0.5"/>
<circle cx="146.9" cy="38.4" r="1.25" fill="rgba(225,25,30,0.3)" stroke="rgba(225,25,30,0.36)" stroke-width="0.5"/>
<circle cx="164.7" cy="43.2" r="1.35" fill="rgba(15,130,55,0.35)" stroke="rgba(15,130,55,0.42)" stroke-width="0.5"/>
<circle cx="164.7" cy="55.6" r="5.75" fill="rgba(15,130,55,0.4)" stroke="rgba(15,130,55,0.48)" stroke-width="0.5"/>
<circle cx="164.7" cy="55.6" r="3.95" fill="rgba(30,100,60,0.75)" stroke="rgba(30,100,60,0.8999999999999999)" stroke-width="0.5"/>
<circle cx="164.7" cy="55.6" r="1.35" fill="rgba(245,110,20,1)" stroke="rgba(245,110,20,1)" stroke-width="0.5"/>
<circle cx="153.2" cy="57.4" r="1.55" fill="rgba(225,25,30,0.3)" stroke="rgba(225,25,30,0.36)" stroke-width="0.5"/>
<circle cx="191.5" cy="58.3" r="1.55" fill="rgba(15,130,55,0.35)" stroke="rgba(15,130,55,0.42)" stroke-width="0.5"/>
<circle cx="182.6" cy="63.7" r="3.35" fill="rgba(15,130,55,0.3)" stroke="rgba(15,130,55,0.36)" stroke-width="0.5"/>
<circle cx="188.8" cy="66.4" r="4.35" fill="rgba(170,110,190,0.6)" stroke="rgba(170,110,190,0.72)" stroke-width="0.5"/>
<circle cx="188.8" cy="66.4" r="3.55" fill="rgba(95,45,150,0.8)" stroke="rgba(95,45,150,0.96)" stroke-width="0.5"/>
<circle cx="187.5" cy="70.5" r="2.35" fill="rgba(15,130,55,0.35)" stroke="rgba(15,130,55,0.42)" stroke-width="0.5"/>
<circle cx="195.8" cy="69.6" r="1.35" fill="rgba(120,50,150,0.85)" stroke="rgba(120,50,150,1)" stroke-width="0.5"/>
<circle cx="200.4" cy="69" r="1.35" fill="rgba(225,25,30,0.35)" stroke="rgba(225,25,30,0.42)" stroke-width="0.5"/>
<circle cx="203.9" cy="69.1" r="1.35" fill="rgba(225,25,30,0.4)" stroke="rgba(225,25,30,0.48)" stroke-width="0.5"/>
<circle cx="200.2" cy="69.4" r="1.35" fill="rgba(15,130,55,0.4)" stroke="rgba(15,130,55,0.48)" stroke-width="0.5"/>
<circle cx="214.3" cy="66.9" r="2.25" fill="rgba(30,30,235,0.65)" stroke="rgba(30,30,235,0.78)" stroke-width="0.5"/>
<circle cx="213.8" cy="67.3" r="1.75" fill="rgba(150,60,130,0.7)" stroke="rgba(150,60,130,0.84)" stroke-width="0.5"/>
<circle cx="221.4" cy="69.8" r="1.55" fill="rgba(30,30,235,0.75)" stroke="rgba(30,30,235,0.8999999999999999)" stroke-width="0.5"/>
<circle cx="233.3" cy="78" r="1.55" fill="rgba(240,115,40,0.45)" stroke="rgba(240,115,40,0.54)" stroke-width="0.5"/>
<circle cx="230.6" cy="81" r="1.35" fill="rgba(15,130,55,0.4)" stroke="rgba(15,130,55,0.48)" stroke-width="0.5"/>
<circle cx="211.3" cy="88.4" r="1.55" fill="rgba(225,25,30,0.65)" stroke="rgba(225,25,30,0.78)" stroke-width="0.5"/>
<circle cx="198.9" cy="95" r="3.95" fill="rgba(150,60,130,0.3)" stroke="rgba(150,60,130,0.36)" stroke-width="0.5"/>
<circle cx="195.9" cy="96.5" r="0.95" fill="rgba(150,60,130,0.9)" stroke="rgba(150,60,130,1)" stroke-width="0.5"/>
<circle cx="165.4" cy="94.3" r="1.35" fill="rgba(225,25,30,0.4)" stroke="rgba(225,25,30,0.48)" stroke-width="0.5"/>
<circle cx="164.7" cy="114.3" r="1.35" fill="rgba(15,130,55,0.4)" stroke="rgba(15,130,55,0.48)" stroke-width="0.5"/>
<circle cx="161" cy="112.8" r="1.55" fill="rgba(15,130,55,0.8)" stroke="rgba(15,130,55,0.96)" stroke-width="0.5"/>
<circle cx="156.6" cy="118.6" r="4.55" fill="rgba(15,130,55,0.4)" stroke="rgba(15,130,55,0.48)" stroke-width="0.5"/>
<circle cx="150.3" cy="122" r="1.75" fill="rgba(30,30,235,1)" stroke="rgba(30,30,235,1)" stroke-width="0.5"/>
<circle cx="149.8" cy="114.6" r="1.35" fill="rgba(150,60,130,0.8)" stroke="rgba(150,60,130,0.96)" stroke-width="0.5"/>
<circle cx="154.5" cy="125.8" r="1.25" fill="rgba(225,25,30,0.4)" stroke="rgba(225,25,30,0.48)" stroke-width="0.5"/>
<circle cx="161.9" cy="113.2" r="1.25" fill="rgba(15,130,55,0.9)" stroke="rgba(15,130,55,1)" stroke-width="0.5"/>
<circle cx="139.7" cy="127.2" r="4.25" fill="rgba(15,130,55,0.4)" stroke="rgba(15,130,55,0.48)" stroke-width="0.5"/>
<circle cx="140" cy="127.8" r="1.15" fill="rgba(150,60,130,0.9)" stroke="rgba(150,60,130,1)" stroke-width="0.5"/>
<circle cx="142" cy="125.5" r="1.25" fill="rgba(15,130,55,0.9)" stroke="rgba(15,130,55,1)" stroke-width="0.5"/>
<circle cx="121.9" cy="144.3" r="1.35" fill="rgba(15,130,55,0.4)" stroke="rgba(15,130,55,0.48)" stroke-width="0.5"/>
<circle cx="120.5" cy="146" r="1.05" fill="rgba(15,130,55,0.9)" stroke="rgba(15,130,55,1)" stroke-width="0.5"/>
<circle cx="113.9" cy="156" r="1.75" fill="rgba(240,115,40,0.5)" stroke="rgba(240,115,40,0.6)" stroke-width="0.5"/>
<text x="54.3" y="63.7" class="lb" font-size="6.5" fill="#222" text-anchor="middle" dominant-baseline="central" transform="rotate(-60 54.3 63.7)">Binzhou</text>
<text x="82.1" y="70.8" font-size="6.6" fill="#eeeeee" text-anchor="middle" style="stroke:#eeeeee;stroke-width:0.9px;opacity:0.85">Dongying</text>
<text x="82.1" y="70.8" class="lb" font-size="6.6" fill="#222" text-anchor="middle">Dongying</text>
<text x="61.3" y="100" class="lb" font-size="6.5" fill="#222" text-anchor="middle" dominant-baseline="central" transform="rotate(-50 61.3 100)">Zibo</text>
<text x="105" y="110.3" class="lb" font-size="6.7" fill="#222" text-anchor="middle">Weifang</text>
<text x="102.4" y="142" class="lb" font-size="6.6" fill="#222" text-anchor="middle">Rizhao</text>
<text x="70.5" y="152.6" class="lb" font-size="6.6" fill="#222" text-anchor="middle">Linyi</text>
<text x="166.3" y="80.7" class="lb" font-size="6.8" fill="#222" text-anchor="middle">Yantai</text>
<text x="142.4" y="109.1" class="lb" font-size="6.5" fill="#222" text-anchor="middle" dominant-baseline="central" transform="rotate(-42 142.4 109.1)">Qingdao</text>
<text x="124.4" y="69.9" class="sm" font-size="5.5" fill="#222" text-anchor="middle">Laizhou Bay</text>
<text x="161" y="66.6" class="sm" font-size="4.8" fill="#222" text-anchor="middle">Penglai</text>
<text x="221" y="81.5" font-size="3.9" fill="#e8e8e8" text-anchor="middle" style="stroke:#e8e8e8;stroke-width:1.4px">Rong</text>
<text x="221" y="85" font-size="3.9" fill="#e8e8e8" text-anchor="middle" style="stroke:#e8e8e8;stroke-width:1.4px">cheng</text>
<text x="221" y="81.5" font-size="3.9" fill="#222" text-anchor="middle" style="stroke:#222;stroke-width:0.35px">Rong</text>
<text x="221" y="85" font-size="3.9" fill="#222" text-anchor="middle" style="stroke:#222;stroke-width:0.35px">cheng</text>
<text x="171.4" y="41.6" class="sm" font-size="3.5" fill="#333" text-anchor="middle" dominant-baseline="central" transform="rotate(-60 171.4 41.6)">Changdao</text>
<text x="209.9" y="80.3" class="lb" font-size="7" fill="#222" text-anchor="middle" dominant-baseline="central" transform="rotate(-37 209.9 80.3)">Weihai</text>
</g>
<rect x="24.75" y="14.3" width="240.75" height="166.0" fill="none" stroke="#000" stroke-width="1.4"/>
<line x1="61.8" y1="14.3" x2="61.8" y2="7.300000000000001" stroke="#000" stroke-width="1.1"/>
<line x1="61.8" y1="180.3" x2="61.8" y2="187.3" stroke="#000" stroke-width="1.1"/>
<line x1="136" y1="14.3" x2="136" y2="7.300000000000001" stroke="#000" stroke-width="1.1"/>
<line x1="136" y1="180.3" x2="136" y2="187.3" stroke="#000" stroke-width="1.1"/>
<line x1="210" y1="14.3" x2="210" y2="7.300000000000001" stroke="#000" stroke-width="1.1"/>
<line x1="210" y1="180.3" x2="210" y2="187.3" stroke="#000" stroke-width="1.1"/>
<line x1="24.75" y1="51.1" x2="18.25" y2="51.1" stroke="#000" stroke-width="1.1"/>
<line x1="265.5" y1="51.1" x2="271.5" y2="51.1" stroke="#000" stroke-width="1.1"/>
<line x1="24.75" y1="125.1" x2="18.25" y2="125.1" stroke="#000" stroke-width="1.1"/>
<line x1="265.5" y1="125.1" x2="271.5" y2="125.1" stroke="#000" stroke-width="1.1"/>
<text x="60.4" y="196.4" font-size="8.7" text-anchor="middle" style="stroke-width:0.15px">118° E</text>
<text x="134.6" y="196.4" font-size="8.7" text-anchor="middle" style="stroke-width:0.15px">120° E</text>
<text x="208.6" y="196.4" font-size="8.7" text-anchor="middle" style="stroke-width:0.15px">122° E</text>
<text x="15" y="52.7" font-size="8.7" text-anchor="middle" style="stroke-width:0.15px" transform="rotate(-90 15 52.7)">38° N</text>
<text x="15" y="126.69999999999999" font-size="8.7" text-anchor="middle" style="stroke-width:0.15px" transform="rotate(-90 15 126.69999999999999)">36° N</text>
<text x="206.3" y="170.3" font-size="11.2" style="stroke-width:0.45px">Bycatch</text>
</g>
<rect x="102.8" y="216.2" width="172.3" height="116.1" fill="#fff" stroke="#484848" stroke-width="1.5"/>
<text x="157.5" y="237.3" font-size="9" text-anchor="middle">Number</text>
<text x="239" y="237.3" font-size="9" text-anchor="middle">Season</text>
<circle cx="126.6" cy="251.6" r="2.0" fill="none" stroke="#222" stroke-width="1.05"/>
<text x="157.5" y="254.29999999999998" font-size="9" text-anchor="middle">1</text>
<circle cx="126.6" cy="269.5" r="4.0" fill="none" stroke="#222" stroke-width="1.05"/>
<text x="157.5" y="272.2" font-size="9" text-anchor="middle">2–5</text>
<circle cx="126.6" cy="288.5" r="6.0" fill="none" stroke="#222" stroke-width="1.05"/>
<text x="157.5" y="290.9" font-size="9" text-anchor="middle">5–10</text>
<circle cx="126.6" cy="306.9" r="7.4" fill="none" stroke="#222" stroke-width="1.05"/>
<text x="157.5" y="309.2" font-size="9" text-anchor="middle">>10</text>
<circle cx="212.7" cy="251.6" r="6.4" fill="rgba(80,150,112,1)"/>
<text x="224.6" y="254.29999999999998" font-size="9">Spring</text>
<circle cx="212.7" cy="269.5" r="6.4" fill="rgba(245,75,75,1)"/>
<text x="224.6" y="272.2" font-size="9">Summer</text>
<circle cx="212.7" cy="288.2" r="6.4" fill="rgba(248,155,95,1)"/>
<text x="224.6" y="290.9" font-size="9">Autumn</text>
<circle cx="212.7" cy="306.5" r="6.4" fill="rgba(95,95,245,1)"/>
<text x="224.6" y="309.2" font-size="9">Winter</text>
<circle cx="212.7" cy="324.6" r="6.4" fill="rgba(184,124,158,1)"/>
<text x="224.6" y="327.3" font-size="9">Unknown</text>
</svg>
</body></html>
